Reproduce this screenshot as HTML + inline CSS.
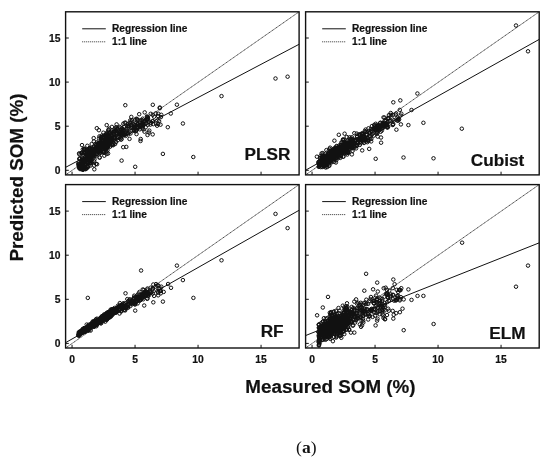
<!DOCTYPE html>
<html><head><meta charset="utf-8"><title>Predicted vs Measured SOM</title>
<style>
html,body{margin:0;padding:0;background:#fff;}
body{width:550px;height:463px;overflow:hidden;}
svg{display:block;}
text{font-family:"Liberation Sans",Arial,sans-serif;font-weight:bold;fill:#111;stroke:#111;stroke-width:0.2px;}
.tk{font-size:10.3px;}
.lg{font-size:10.15px;}
.pn{font-size:17.2px;}
.ax{font-size:18.8px;}
.cap{font-family:"Liberation Serif",serif;font-weight:normal;font-size:17.5px;stroke:none;}
</style></head><body>
<svg width="550" height="463" viewBox="0 0 550 463">
<rect width="550" height="463" fill="#fff"/>

<clipPath id="cPLSR"><rect x="65.6" y="11.8" width="233.5" height="163.1"/></clipPath>
<g clip-path="url(#cPLSR)">
<line x1="65.6" y1="174.9" x2="299.1" y2="11.8" stroke="#333" stroke-width="0.9" stroke-dasharray="1.3 0.4"/>
<line x1="64.49" y1="167.93" x2="301.37" y2="43.08" stroke="#111" stroke-width="1.0"/>
<g fill="none" stroke="#111" stroke-width="1.0">
<circle cx="96.4" cy="147.8" r="1.75"/>
<circle cx="89.5" cy="149.5" r="1.75"/>
<circle cx="86.4" cy="157.7" r="1.75"/>
<circle cx="95.2" cy="144.4" r="1.75"/>
<circle cx="102.0" cy="140.6" r="1.75"/>
<circle cx="82.2" cy="157.7" r="1.75"/>
<circle cx="107.3" cy="138.0" r="1.75"/>
<circle cx="102.4" cy="142.5" r="1.75"/>
<circle cx="82.6" cy="159.8" r="1.75"/>
<circle cx="92.6" cy="151.5" r="1.75"/>
<circle cx="107.8" cy="135.3" r="1.75"/>
<circle cx="84.2" cy="166.7" r="1.75"/>
<circle cx="81.3" cy="153.0" r="1.75"/>
<circle cx="94.3" cy="169.3" r="1.75"/>
<circle cx="91.7" cy="148.4" r="1.75"/>
<circle cx="84.3" cy="160.0" r="1.75"/>
<circle cx="106.6" cy="153.9" r="1.75"/>
<circle cx="79.1" cy="153.4" r="1.75"/>
<circle cx="102.0" cy="146.3" r="1.75"/>
<circle cx="105.1" cy="148.5" r="1.75"/>
<circle cx="103.5" cy="147.1" r="1.75"/>
<circle cx="85.9" cy="159.8" r="1.75"/>
<circle cx="91.7" cy="144.0" r="1.75"/>
<circle cx="95.9" cy="148.8" r="1.75"/>
<circle cx="79.8" cy="158.4" r="1.75"/>
<circle cx="85.4" cy="163.8" r="1.75"/>
<circle cx="88.5" cy="162.1" r="1.75"/>
<circle cx="103.2" cy="140.4" r="1.75"/>
<circle cx="85.1" cy="149.6" r="1.75"/>
<circle cx="108.7" cy="142.8" r="1.75"/>
<circle cx="90.8" cy="151.0" r="1.75"/>
<circle cx="94.0" cy="151.0" r="1.75"/>
<circle cx="79.0" cy="168.0" r="1.75"/>
<circle cx="101.1" cy="145.7" r="1.75"/>
<circle cx="96.6" cy="150.6" r="1.75"/>
<circle cx="83.3" cy="169.0" r="1.75"/>
<circle cx="97.0" cy="145.9" r="1.75"/>
<circle cx="96.7" cy="146.4" r="1.75"/>
<circle cx="92.3" cy="155.1" r="1.75"/>
<circle cx="107.9" cy="146.6" r="1.75"/>
<circle cx="84.2" cy="152.0" r="1.75"/>
<circle cx="91.2" cy="152.5" r="1.75"/>
<circle cx="104.3" cy="142.8" r="1.75"/>
<circle cx="89.7" cy="147.8" r="1.75"/>
<circle cx="91.9" cy="155.8" r="1.75"/>
<circle cx="89.3" cy="157.2" r="1.75"/>
<circle cx="83.9" cy="161.2" r="1.75"/>
<circle cx="87.5" cy="157.2" r="1.75"/>
<circle cx="90.8" cy="162.7" r="1.75"/>
<circle cx="94.1" cy="151.3" r="1.75"/>
<circle cx="110.1" cy="132.9" r="1.75"/>
<circle cx="81.6" cy="161.2" r="1.75"/>
<circle cx="94.1" cy="161.2" r="1.75"/>
<circle cx="86.3" cy="159.3" r="1.75"/>
<circle cx="94.9" cy="149.0" r="1.75"/>
<circle cx="96.4" cy="153.9" r="1.75"/>
<circle cx="84.9" cy="161.8" r="1.75"/>
<circle cx="106.5" cy="141.4" r="1.75"/>
<circle cx="98.9" cy="150.2" r="1.75"/>
<circle cx="110.7" cy="138.5" r="1.75"/>
<circle cx="80.1" cy="166.3" r="1.75"/>
<circle cx="108.6" cy="129.6" r="1.75"/>
<circle cx="101.3" cy="138.7" r="1.75"/>
<circle cx="90.2" cy="153.9" r="1.75"/>
<circle cx="89.6" cy="155.4" r="1.75"/>
<circle cx="82.8" cy="149.5" r="1.75"/>
<circle cx="106.5" cy="139.5" r="1.75"/>
<circle cx="95.1" cy="151.0" r="1.75"/>
<circle cx="97.1" cy="147.3" r="1.75"/>
<circle cx="102.0" cy="143.3" r="1.75"/>
<circle cx="83.9" cy="152.7" r="1.75"/>
<circle cx="97.4" cy="148.7" r="1.75"/>
<circle cx="84.0" cy="149.0" r="1.75"/>
<circle cx="99.3" cy="151.4" r="1.75"/>
<circle cx="100.8" cy="142.3" r="1.75"/>
<circle cx="97.0" cy="154.0" r="1.75"/>
<circle cx="107.1" cy="143.6" r="1.75"/>
<circle cx="92.8" cy="154.1" r="1.75"/>
<circle cx="89.8" cy="155.3" r="1.75"/>
<circle cx="79.8" cy="158.5" r="1.75"/>
<circle cx="89.8" cy="148.5" r="1.75"/>
<circle cx="91.1" cy="159.5" r="1.75"/>
<circle cx="100.0" cy="148.1" r="1.75"/>
<circle cx="105.2" cy="149.0" r="1.75"/>
<circle cx="108.0" cy="139.3" r="1.75"/>
<circle cx="91.1" cy="154.4" r="1.75"/>
<circle cx="96.8" cy="150.9" r="1.75"/>
<circle cx="83.5" cy="163.8" r="1.75"/>
<circle cx="91.5" cy="163.3" r="1.75"/>
<circle cx="104.3" cy="155.7" r="1.75"/>
<circle cx="108.6" cy="136.9" r="1.75"/>
<circle cx="104.2" cy="135.4" r="1.75"/>
<circle cx="80.6" cy="166.4" r="1.75"/>
<circle cx="90.8" cy="154.7" r="1.75"/>
<circle cx="92.6" cy="154.7" r="1.75"/>
<circle cx="106.1" cy="139.0" r="1.75"/>
<circle cx="90.0" cy="159.7" r="1.75"/>
<circle cx="80.8" cy="163.3" r="1.75"/>
<circle cx="78.8" cy="166.0" r="1.75"/>
<circle cx="101.8" cy="143.9" r="1.75"/>
<circle cx="98.5" cy="147.2" r="1.75"/>
<circle cx="79.0" cy="164.8" r="1.75"/>
<circle cx="107.6" cy="138.4" r="1.75"/>
<circle cx="94.7" cy="152.1" r="1.75"/>
<circle cx="104.0" cy="150.8" r="1.75"/>
<circle cx="100.3" cy="143.2" r="1.75"/>
<circle cx="88.8" cy="154.3" r="1.75"/>
<circle cx="88.5" cy="156.8" r="1.75"/>
<circle cx="94.0" cy="150.7" r="1.75"/>
<circle cx="83.9" cy="168.4" r="1.75"/>
<circle cx="104.6" cy="148.1" r="1.75"/>
<circle cx="84.5" cy="163.4" r="1.75"/>
<circle cx="84.3" cy="151.6" r="1.75"/>
<circle cx="103.0" cy="136.9" r="1.75"/>
<circle cx="96.4" cy="154.1" r="1.75"/>
<circle cx="80.0" cy="167.9" r="1.75"/>
<circle cx="93.4" cy="155.2" r="1.75"/>
<circle cx="93.3" cy="154.5" r="1.75"/>
<circle cx="106.3" cy="149.1" r="1.75"/>
<circle cx="101.5" cy="145.1" r="1.75"/>
<circle cx="99.8" cy="153.0" r="1.75"/>
<circle cx="105.2" cy="148.1" r="1.75"/>
<circle cx="79.3" cy="159.0" r="1.75"/>
<circle cx="93.8" cy="155.1" r="1.75"/>
<circle cx="103.3" cy="144.1" r="1.75"/>
<circle cx="100.3" cy="150.1" r="1.75"/>
<circle cx="85.1" cy="160.2" r="1.75"/>
<circle cx="101.5" cy="146.9" r="1.75"/>
<circle cx="89.1" cy="159.6" r="1.75"/>
<circle cx="100.1" cy="151.2" r="1.75"/>
<circle cx="99.0" cy="138.5" r="1.75"/>
<circle cx="89.1" cy="152.2" r="1.75"/>
<circle cx="82.6" cy="166.0" r="1.75"/>
<circle cx="106.7" cy="140.9" r="1.75"/>
<circle cx="93.0" cy="148.6" r="1.75"/>
<circle cx="88.6" cy="153.5" r="1.75"/>
<circle cx="79.3" cy="154.3" r="1.75"/>
<circle cx="89.3" cy="148.3" r="1.75"/>
<circle cx="84.0" cy="167.1" r="1.75"/>
<circle cx="82.5" cy="161.5" r="1.75"/>
<circle cx="104.9" cy="148.7" r="1.75"/>
<circle cx="96.5" cy="148.1" r="1.75"/>
<circle cx="83.3" cy="159.6" r="1.75"/>
<circle cx="103.4" cy="132.7" r="1.75"/>
<circle cx="82.4" cy="166.3" r="1.75"/>
<circle cx="99.6" cy="157.2" r="1.75"/>
<circle cx="88.5" cy="165.7" r="1.75"/>
<circle cx="97.2" cy="148.2" r="1.75"/>
<circle cx="87.6" cy="163.3" r="1.75"/>
<circle cx="90.8" cy="158.5" r="1.75"/>
<circle cx="83.5" cy="162.1" r="1.75"/>
<circle cx="85.5" cy="169.2" r="1.75"/>
<circle cx="104.3" cy="143.7" r="1.75"/>
<circle cx="109.0" cy="143.5" r="1.75"/>
<circle cx="108.3" cy="135.9" r="1.75"/>
<circle cx="101.7" cy="147.7" r="1.75"/>
<circle cx="100.7" cy="148.4" r="1.75"/>
<circle cx="90.7" cy="165.5" r="1.75"/>
<circle cx="88.0" cy="160.5" r="1.75"/>
<circle cx="101.3" cy="142.1" r="1.75"/>
<circle cx="90.1" cy="163.0" r="1.75"/>
<circle cx="96.9" cy="149.4" r="1.75"/>
<circle cx="102.4" cy="140.9" r="1.75"/>
<circle cx="85.4" cy="160.6" r="1.75"/>
<circle cx="98.7" cy="146.3" r="1.75"/>
<circle cx="95.4" cy="155.9" r="1.75"/>
<circle cx="96.9" cy="142.4" r="1.75"/>
<circle cx="106.6" cy="135.6" r="1.75"/>
<circle cx="82.9" cy="159.5" r="1.75"/>
<circle cx="87.4" cy="166.0" r="1.75"/>
<circle cx="82.0" cy="166.2" r="1.75"/>
<circle cx="104.5" cy="137.9" r="1.75"/>
<circle cx="87.7" cy="149.7" r="1.75"/>
<circle cx="92.4" cy="151.3" r="1.75"/>
<circle cx="84.9" cy="152.6" r="1.75"/>
<circle cx="82.9" cy="163.9" r="1.75"/>
<circle cx="94.5" cy="152.0" r="1.75"/>
<circle cx="96.2" cy="149.6" r="1.75"/>
<circle cx="78.6" cy="162.6" r="1.75"/>
<circle cx="106.5" cy="151.8" r="1.75"/>
<circle cx="96.1" cy="152.4" r="1.75"/>
<circle cx="100.9" cy="139.1" r="1.75"/>
<circle cx="106.8" cy="146.6" r="1.75"/>
<circle cx="100.9" cy="152.5" r="1.75"/>
<circle cx="86.6" cy="155.9" r="1.75"/>
<circle cx="85.7" cy="161.8" r="1.75"/>
<circle cx="84.3" cy="166.9" r="1.75"/>
<circle cx="98.1" cy="143.9" r="1.75"/>
<circle cx="90.9" cy="153.2" r="1.75"/>
<circle cx="86.1" cy="168.8" r="1.75"/>
<circle cx="99.4" cy="136.4" r="1.75"/>
<circle cx="87.1" cy="156.5" r="1.75"/>
<circle cx="88.7" cy="159.8" r="1.75"/>
<circle cx="92.2" cy="152.5" r="1.75"/>
<circle cx="99.6" cy="157.7" r="1.75"/>
<circle cx="82.4" cy="168.4" r="1.75"/>
<circle cx="81.7" cy="159.7" r="1.75"/>
<circle cx="80.2" cy="165.9" r="1.75"/>
<circle cx="90.7" cy="156.5" r="1.75"/>
<circle cx="82.1" cy="152.8" r="1.75"/>
<circle cx="85.2" cy="161.2" r="1.75"/>
<circle cx="93.8" cy="147.5" r="1.75"/>
<circle cx="109.1" cy="136.5" r="1.75"/>
<circle cx="100.4" cy="143.6" r="1.75"/>
<circle cx="107.1" cy="133.4" r="1.75"/>
<circle cx="95.9" cy="149.9" r="1.75"/>
<circle cx="101.8" cy="135.7" r="1.75"/>
<circle cx="100.3" cy="150.9" r="1.75"/>
<circle cx="110.1" cy="146.7" r="1.75"/>
<circle cx="86.0" cy="168.4" r="1.75"/>
<circle cx="93.8" cy="156.8" r="1.75"/>
<circle cx="98.6" cy="145.0" r="1.75"/>
<circle cx="83.3" cy="152.9" r="1.75"/>
<circle cx="92.4" cy="156.1" r="1.75"/>
<circle cx="93.1" cy="152.2" r="1.75"/>
<circle cx="82.4" cy="163.0" r="1.75"/>
<circle cx="87.9" cy="167.0" r="1.75"/>
<circle cx="101.2" cy="151.4" r="1.75"/>
<circle cx="106.3" cy="141.0" r="1.75"/>
<circle cx="92.1" cy="161.8" r="1.75"/>
<circle cx="96.0" cy="149.2" r="1.75"/>
<circle cx="84.3" cy="159.5" r="1.75"/>
<circle cx="88.2" cy="159.7" r="1.75"/>
<circle cx="85.7" cy="164.3" r="1.75"/>
<circle cx="94.2" cy="165.5" r="1.75"/>
<circle cx="84.6" cy="149.7" r="1.75"/>
<circle cx="84.2" cy="166.6" r="1.75"/>
<circle cx="102.6" cy="136.6" r="1.75"/>
<circle cx="98.2" cy="144.9" r="1.75"/>
<circle cx="98.1" cy="149.9" r="1.75"/>
<circle cx="87.8" cy="162.7" r="1.75"/>
<circle cx="101.8" cy="139.7" r="1.75"/>
<circle cx="100.9" cy="137.0" r="1.75"/>
<circle cx="96.1" cy="163.9" r="1.75"/>
<circle cx="103.0" cy="145.4" r="1.75"/>
<circle cx="89.3" cy="150.0" r="1.75"/>
<circle cx="85.8" cy="156.5" r="1.75"/>
<circle cx="93.9" cy="141.4" r="1.75"/>
<circle cx="90.0" cy="157.7" r="1.75"/>
<circle cx="92.3" cy="150.1" r="1.75"/>
<circle cx="88.7" cy="162.3" r="1.75"/>
<circle cx="84.4" cy="148.7" r="1.75"/>
<circle cx="107.5" cy="145.6" r="1.75"/>
<circle cx="97.1" cy="164.2" r="1.75"/>
<circle cx="103.0" cy="144.6" r="1.75"/>
<circle cx="89.0" cy="156.3" r="1.75"/>
<circle cx="88.4" cy="151.4" r="1.75"/>
<circle cx="94.9" cy="152.4" r="1.75"/>
<circle cx="83.3" cy="160.4" r="1.75"/>
<circle cx="96.9" cy="146.0" r="1.75"/>
<circle cx="86.7" cy="151.6" r="1.75"/>
<circle cx="109.6" cy="139.0" r="1.75"/>
<circle cx="105.7" cy="136.6" r="1.75"/>
<circle cx="78.8" cy="164.1" r="1.75"/>
<circle cx="86.4" cy="159.3" r="1.75"/>
<circle cx="82.5" cy="160.6" r="1.75"/>
<circle cx="106.1" cy="142.3" r="1.75"/>
<circle cx="78.8" cy="165.8" r="1.75"/>
<circle cx="109.2" cy="133.1" r="1.75"/>
<circle cx="107.4" cy="147.2" r="1.75"/>
<circle cx="90.4" cy="148.5" r="1.75"/>
<circle cx="98.9" cy="143.3" r="1.75"/>
<circle cx="101.4" cy="145.7" r="1.75"/>
<circle cx="108.0" cy="143.7" r="1.75"/>
<circle cx="84.4" cy="160.6" r="1.75"/>
<circle cx="87.2" cy="154.7" r="1.75"/>
<circle cx="90.4" cy="150.6" r="1.75"/>
<circle cx="89.7" cy="153.6" r="1.75"/>
<circle cx="97.9" cy="143.2" r="1.75"/>
<circle cx="90.7" cy="161.0" r="1.75"/>
<circle cx="93.0" cy="151.1" r="1.75"/>
<circle cx="94.5" cy="159.3" r="1.75"/>
<circle cx="87.6" cy="156.0" r="1.75"/>
<circle cx="104.7" cy="144.1" r="1.75"/>
<circle cx="100.9" cy="147.7" r="1.75"/>
<circle cx="105.6" cy="136.1" r="1.75"/>
<circle cx="106.5" cy="137.7" r="1.75"/>
<circle cx="84.8" cy="168.0" r="1.75"/>
<circle cx="87.3" cy="167.8" r="1.75"/>
<circle cx="106.4" cy="148.3" r="1.75"/>
<circle cx="85.3" cy="153.2" r="1.75"/>
<circle cx="87.3" cy="145.8" r="1.75"/>
<circle cx="103.0" cy="146.5" r="1.75"/>
<circle cx="78.4" cy="164.1" r="1.75"/>
<circle cx="86.7" cy="158.9" r="1.75"/>
<circle cx="84.9" cy="157.2" r="1.75"/>
<circle cx="94.0" cy="155.1" r="1.75"/>
<circle cx="102.7" cy="141.2" r="1.75"/>
<circle cx="98.5" cy="152.6" r="1.75"/>
<circle cx="96.0" cy="145.2" r="1.75"/>
<circle cx="82.2" cy="166.2" r="1.75"/>
<circle cx="101.1" cy="144.2" r="1.75"/>
<circle cx="83.1" cy="154.6" r="1.75"/>
<circle cx="92.7" cy="148.9" r="1.75"/>
<circle cx="109.6" cy="143.3" r="1.75"/>
<circle cx="106.3" cy="144.8" r="1.75"/>
<circle cx="114.6" cy="137.4" r="1.75"/>
<circle cx="119.1" cy="132.7" r="1.75"/>
<circle cx="146.9" cy="116.5" r="1.75"/>
<circle cx="130.5" cy="133.5" r="1.75"/>
<circle cx="131.2" cy="125.0" r="1.75"/>
<circle cx="132.6" cy="123.8" r="1.75"/>
<circle cx="127.3" cy="126.1" r="1.75"/>
<circle cx="128.2" cy="126.1" r="1.75"/>
<circle cx="106.1" cy="134.0" r="1.75"/>
<circle cx="113.3" cy="133.6" r="1.75"/>
<circle cx="116.1" cy="130.0" r="1.75"/>
<circle cx="122.2" cy="128.2" r="1.75"/>
<circle cx="128.8" cy="125.6" r="1.75"/>
<circle cx="136.5" cy="134.1" r="1.75"/>
<circle cx="137.1" cy="119.2" r="1.75"/>
<circle cx="128.2" cy="134.2" r="1.75"/>
<circle cx="111.8" cy="138.4" r="1.75"/>
<circle cx="128.2" cy="132.9" r="1.75"/>
<circle cx="113.2" cy="145.2" r="1.75"/>
<circle cx="119.8" cy="133.9" r="1.75"/>
<circle cx="126.2" cy="132.4" r="1.75"/>
<circle cx="136.5" cy="123.0" r="1.75"/>
<circle cx="117.8" cy="140.2" r="1.75"/>
<circle cx="136.5" cy="118.7" r="1.75"/>
<circle cx="121.0" cy="130.2" r="1.75"/>
<circle cx="137.5" cy="126.1" r="1.75"/>
<circle cx="137.2" cy="128.3" r="1.75"/>
<circle cx="123.2" cy="147.2" r="1.75"/>
<circle cx="139.8" cy="129.3" r="1.75"/>
<circle cx="103.8" cy="152.3" r="1.75"/>
<circle cx="120.1" cy="131.9" r="1.75"/>
<circle cx="107.1" cy="141.6" r="1.75"/>
<circle cx="144.5" cy="131.7" r="1.75"/>
<circle cx="109.7" cy="143.3" r="1.75"/>
<circle cx="129.5" cy="132.2" r="1.75"/>
<circle cx="134.2" cy="125.4" r="1.75"/>
<circle cx="117.8" cy="128.5" r="1.75"/>
<circle cx="147.0" cy="118.8" r="1.75"/>
<circle cx="137.5" cy="126.4" r="1.75"/>
<circle cx="147.5" cy="135.0" r="1.75"/>
<circle cx="107.0" cy="147.7" r="1.75"/>
<circle cx="121.6" cy="139.2" r="1.75"/>
<circle cx="104.0" cy="152.0" r="1.75"/>
<circle cx="147.9" cy="124.7" r="1.75"/>
<circle cx="122.3" cy="130.5" r="1.75"/>
<circle cx="114.5" cy="138.2" r="1.75"/>
<circle cx="106.0" cy="143.5" r="1.75"/>
<circle cx="123.3" cy="123.7" r="1.75"/>
<circle cx="134.2" cy="129.3" r="1.75"/>
<circle cx="145.9" cy="123.5" r="1.75"/>
<circle cx="118.3" cy="136.8" r="1.75"/>
<circle cx="114.2" cy="131.2" r="1.75"/>
<circle cx="108.1" cy="144.9" r="1.75"/>
<circle cx="142.3" cy="128.4" r="1.75"/>
<circle cx="125.6" cy="135.9" r="1.75"/>
<circle cx="110.5" cy="144.9" r="1.75"/>
<circle cx="111.8" cy="134.8" r="1.75"/>
<circle cx="139.2" cy="114.2" r="1.75"/>
<circle cx="123.1" cy="135.2" r="1.75"/>
<circle cx="128.1" cy="123.9" r="1.75"/>
<circle cx="123.2" cy="129.2" r="1.75"/>
<circle cx="108.1" cy="153.5" r="1.75"/>
<circle cx="139.7" cy="125.4" r="1.75"/>
<circle cx="109.4" cy="140.0" r="1.75"/>
<circle cx="138.6" cy="127.7" r="1.75"/>
<circle cx="108.4" cy="130.2" r="1.75"/>
<circle cx="103.7" cy="152.8" r="1.75"/>
<circle cx="143.2" cy="121.2" r="1.75"/>
<circle cx="137.9" cy="124.0" r="1.75"/>
<circle cx="107.1" cy="143.5" r="1.75"/>
<circle cx="138.0" cy="124.0" r="1.75"/>
<circle cx="120.2" cy="127.6" r="1.75"/>
<circle cx="144.6" cy="121.7" r="1.75"/>
<circle cx="105.3" cy="140.0" r="1.75"/>
<circle cx="125.2" cy="130.7" r="1.75"/>
<circle cx="126.3" cy="146.9" r="1.75"/>
<circle cx="124.7" cy="122.8" r="1.75"/>
<circle cx="131.3" cy="116.9" r="1.75"/>
<circle cx="147.3" cy="117.1" r="1.75"/>
<circle cx="114.4" cy="132.6" r="1.75"/>
<circle cx="140.5" cy="141.0" r="1.75"/>
<circle cx="130.9" cy="127.9" r="1.75"/>
<circle cx="111.0" cy="141.6" r="1.75"/>
<circle cx="105.0" cy="145.2" r="1.75"/>
<circle cx="104.3" cy="138.1" r="1.75"/>
<circle cx="114.1" cy="139.3" r="1.75"/>
<circle cx="117.0" cy="134.2" r="1.75"/>
<circle cx="115.1" cy="144.0" r="1.75"/>
<circle cx="118.7" cy="133.8" r="1.75"/>
<circle cx="126.6" cy="129.1" r="1.75"/>
<circle cx="110.9" cy="141.2" r="1.75"/>
<circle cx="104.5" cy="146.3" r="1.75"/>
<circle cx="116.7" cy="127.7" r="1.75"/>
<circle cx="135.7" cy="131.2" r="1.75"/>
<circle cx="136.7" cy="130.0" r="1.75"/>
<circle cx="119.3" cy="136.2" r="1.75"/>
<circle cx="110.4" cy="132.2" r="1.75"/>
<circle cx="109.3" cy="128.6" r="1.75"/>
<circle cx="146.9" cy="120.1" r="1.75"/>
<circle cx="116.0" cy="142.0" r="1.75"/>
<circle cx="141.6" cy="125.4" r="1.75"/>
<circle cx="130.0" cy="122.7" r="1.75"/>
<circle cx="123.9" cy="134.4" r="1.75"/>
<circle cx="115.8" cy="127.4" r="1.75"/>
<circle cx="125.6" cy="122.7" r="1.75"/>
<circle cx="103.9" cy="142.9" r="1.75"/>
<circle cx="124.0" cy="127.0" r="1.75"/>
<circle cx="114.5" cy="131.5" r="1.75"/>
<circle cx="130.3" cy="120.3" r="1.75"/>
<circle cx="124.9" cy="134.6" r="1.75"/>
<circle cx="107.4" cy="134.6" r="1.75"/>
<circle cx="142.5" cy="124.9" r="1.75"/>
<circle cx="123.4" cy="134.0" r="1.75"/>
<circle cx="112.3" cy="144.7" r="1.75"/>
<circle cx="110.7" cy="138.9" r="1.75"/>
<circle cx="108.1" cy="146.7" r="1.75"/>
<circle cx="113.2" cy="143.8" r="1.75"/>
<circle cx="123.8" cy="134.6" r="1.75"/>
<circle cx="131.9" cy="120.2" r="1.75"/>
<circle cx="116.6" cy="124.4" r="1.75"/>
<circle cx="148.0" cy="118.3" r="1.75"/>
<circle cx="110.5" cy="135.7" r="1.75"/>
<circle cx="122.8" cy="133.1" r="1.75"/>
<circle cx="119.8" cy="132.4" r="1.75"/>
<circle cx="121.3" cy="129.9" r="1.75"/>
<circle cx="136.0" cy="130.5" r="1.75"/>
<circle cx="134.0" cy="130.8" r="1.75"/>
<circle cx="135.3" cy="125.3" r="1.75"/>
<circle cx="121.3" cy="132.8" r="1.75"/>
<circle cx="124.8" cy="134.7" r="1.75"/>
<circle cx="133.7" cy="124.5" r="1.75"/>
<circle cx="139.5" cy="125.4" r="1.75"/>
<circle cx="137.8" cy="120.1" r="1.75"/>
<circle cx="123.0" cy="130.5" r="1.75"/>
<circle cx="140.7" cy="125.2" r="1.75"/>
<circle cx="115.0" cy="137.3" r="1.75"/>
<circle cx="142.2" cy="124.0" r="1.75"/>
<circle cx="103.6" cy="146.8" r="1.75"/>
<circle cx="114.3" cy="137.3" r="1.75"/>
<circle cx="141.9" cy="120.0" r="1.75"/>
<circle cx="147.3" cy="118.9" r="1.75"/>
<circle cx="114.7" cy="129.4" r="1.75"/>
<circle cx="112.6" cy="144.8" r="1.75"/>
<circle cx="117.3" cy="137.7" r="1.75"/>
<circle cx="119.8" cy="134.0" r="1.75"/>
<circle cx="106.7" cy="140.1" r="1.75"/>
<circle cx="113.5" cy="138.0" r="1.75"/>
<circle cx="143.7" cy="125.1" r="1.75"/>
<circle cx="140.2" cy="120.4" r="1.75"/>
<circle cx="117.0" cy="132.8" r="1.75"/>
<circle cx="145.7" cy="127.3" r="1.75"/>
<circle cx="135.2" cy="119.6" r="1.75"/>
<circle cx="113.3" cy="132.4" r="1.75"/>
<circle cx="135.1" cy="128.4" r="1.75"/>
<circle cx="112.0" cy="140.0" r="1.75"/>
<circle cx="121.5" cy="134.7" r="1.75"/>
<circle cx="111.8" cy="131.6" r="1.75"/>
<circle cx="122.0" cy="132.0" r="1.75"/>
<circle cx="105.3" cy="146.0" r="1.75"/>
<circle cx="142.9" cy="124.7" r="1.75"/>
<circle cx="111.2" cy="141.3" r="1.75"/>
<circle cx="104.5" cy="145.5" r="1.75"/>
<circle cx="137.3" cy="124.2" r="1.75"/>
<circle cx="116.9" cy="133.5" r="1.75"/>
<circle cx="111.9" cy="139.7" r="1.75"/>
<circle cx="129.5" cy="138.9" r="1.75"/>
<circle cx="128.5" cy="127.8" r="1.75"/>
<circle cx="107.5" cy="150.1" r="1.75"/>
<circle cx="148.2" cy="120.1" r="1.75"/>
<circle cx="119.5" cy="126.8" r="1.75"/>
<circle cx="120.7" cy="137.9" r="1.75"/>
<circle cx="126.9" cy="130.7" r="1.75"/>
<circle cx="134.0" cy="127.0" r="1.75"/>
<circle cx="121.0" cy="139.6" r="1.75"/>
<circle cx="137.7" cy="127.4" r="1.75"/>
<circle cx="142.6" cy="125.8" r="1.75"/>
<circle cx="142.3" cy="127.4" r="1.75"/>
<circle cx="108.4" cy="140.1" r="1.75"/>
<circle cx="111.6" cy="137.3" r="1.75"/>
<circle cx="117.1" cy="129.0" r="1.75"/>
<circle cx="134.3" cy="127.2" r="1.75"/>
<circle cx="131.7" cy="126.7" r="1.75"/>
<circle cx="142.0" cy="124.1" r="1.75"/>
<circle cx="139.6" cy="122.8" r="1.75"/>
<circle cx="110.9" cy="133.7" r="1.75"/>
<circle cx="114.3" cy="134.2" r="1.75"/>
<circle cx="120.8" cy="134.8" r="1.75"/>
<circle cx="133.8" cy="129.9" r="1.75"/>
<circle cx="107.3" cy="132.3" r="1.75"/>
<circle cx="132.6" cy="128.0" r="1.75"/>
<circle cx="111.4" cy="138.8" r="1.75"/>
<circle cx="131.4" cy="121.8" r="1.75"/>
<circle cx="152.7" cy="114.8" r="1.75"/>
<circle cx="154.1" cy="116.7" r="1.75"/>
<circle cx="152.8" cy="121.3" r="1.75"/>
<circle cx="144.7" cy="112.4" r="1.75"/>
<circle cx="161.3" cy="114.8" r="1.75"/>
<circle cx="160.9" cy="117.1" r="1.75"/>
<circle cx="143.3" cy="123.6" r="1.75"/>
<circle cx="160.5" cy="124.7" r="1.75"/>
<circle cx="152.7" cy="134.4" r="1.75"/>
<circle cx="145.0" cy="120.4" r="1.75"/>
<circle cx="158.1" cy="116.0" r="1.75"/>
<circle cx="150.8" cy="122.9" r="1.75"/>
<circle cx="156.1" cy="123.6" r="1.75"/>
<circle cx="158.2" cy="124.0" r="1.75"/>
<circle cx="152.8" cy="121.0" r="1.75"/>
<circle cx="143.5" cy="129.4" r="1.75"/>
<circle cx="158.2" cy="113.7" r="1.75"/>
<circle cx="155.7" cy="113.4" r="1.75"/>
<circle cx="159.8" cy="107.5" r="1.75"/>
<circle cx="147.7" cy="117.4" r="1.75"/>
<circle cx="157.4" cy="120.5" r="1.75"/>
<circle cx="159.1" cy="121.2" r="1.75"/>
<circle cx="149.3" cy="130.6" r="1.75"/>
<circle cx="150.4" cy="124.6" r="1.75"/>
<circle cx="148.9" cy="121.7" r="1.75"/>
<circle cx="142.7" cy="118.7" r="1.75"/>
<circle cx="147.0" cy="118.8" r="1.75"/>
<circle cx="148.9" cy="132.5" r="1.75"/>
<circle cx="144.7" cy="121.4" r="1.75"/>
<circle cx="157.1" cy="125.7" r="1.75"/>
<circle cx="150.7" cy="113.8" r="1.75"/>
<circle cx="153.3" cy="124.1" r="1.75"/>
<circle cx="125.3" cy="105.2" r="1.75"/>
<circle cx="152.8" cy="104.8" r="1.75"/>
<circle cx="159.8" cy="108.2" r="1.75"/>
<circle cx="176.9" cy="104.7" r="1.75"/>
<circle cx="170.8" cy="113.5" r="1.75"/>
<circle cx="182.9" cy="123.5" r="1.75"/>
<circle cx="167.8" cy="127.2" r="1.75"/>
<circle cx="162.9" cy="153.9" r="1.75"/>
<circle cx="193.3" cy="157.0" r="1.75"/>
<circle cx="135.2" cy="166.8" r="1.75"/>
<circle cx="121.6" cy="160.6" r="1.75"/>
<circle cx="140.7" cy="139.0" r="1.75"/>
<circle cx="82.0" cy="145.1" r="1.75"/>
<circle cx="93.7" cy="138.1" r="1.75"/>
<circle cx="96.8" cy="128.2" r="1.75"/>
<circle cx="98.9" cy="130.2" r="1.75"/>
<circle cx="106.7" cy="125.1" r="1.75"/>
<circle cx="111.9" cy="126.9" r="1.75"/>
<circle cx="221.5" cy="96.1" r="1.75"/>
<circle cx="275.5" cy="78.5" r="1.75"/>
<circle cx="287.6" cy="76.7" r="1.75"/>
<circle cx="79.6" cy="166.9" r="1.75"/>
<circle cx="82.8" cy="169.7" r="1.75"/>
<circle cx="81.9" cy="169.3" r="1.75"/>
<circle cx="80.9" cy="168.5" r="1.75"/>
<circle cx="83.7" cy="169.1" r="1.75"/>
<circle cx="82.0" cy="166.8" r="1.75"/>
<circle cx="80.7" cy="164.5" r="1.75"/>
<circle cx="80.7" cy="168.5" r="1.75"/>
<circle cx="82.9" cy="167.4" r="1.75"/>
<circle cx="83.1" cy="169.7" r="1.75"/>
<circle cx="79.5" cy="165.8" r="1.75"/>
<circle cx="81.0" cy="165.0" r="1.75"/>
<circle cx="80.1" cy="169.1" r="1.75"/>
<circle cx="84.0" cy="168.3" r="1.75"/>
</g></g>
<path d="M72.05 174.9 v-3.2 M65.6 170.30 h3.2 M135.05 174.9 v-3.2 M65.6 126.20 h3.2 M198.05 174.9 v-3.2 M65.6 82.10 h3.2 M261.05 174.9 v-3.2 M65.6 38.00 h3.2" stroke="#111" stroke-width="1" fill="none"/>
<rect x="65.6" y="11.8" width="233.5" height="163.1" fill="none" stroke="#111" stroke-width="1.4"/>
<line x1="82.2" y1="28.8" x2="105.8" y2="28.8" stroke="#111" stroke-width="1"/>
<line x1="82.2" y1="41.8" x2="105.8" y2="41.8" stroke="#333" stroke-width="1" stroke-dasharray="1 1"/>
<text class="lg" x="112.0" y="32.0">Regression line</text>
<text class="lg" x="112.0" y="45.2">1:1 line</text>
<text class="pn" x="290.4" y="160.3" text-anchor="end">PLSR</text>
<text class="tk" x="60.4" y="174.1" text-anchor="end">0</text>
<text class="tk" x="60.4" y="130.0" text-anchor="end">5</text>
<text class="tk" x="60.4" y="85.9" text-anchor="end">10</text>
<text class="tk" x="60.4" y="41.8" text-anchor="end">15</text>
<clipPath id="cCubist"><rect x="305.6" y="11.8" width="233.6" height="163.1"/></clipPath>
<g clip-path="url(#cCubist)">
<line x1="305.6" y1="174.9" x2="539.2" y2="11.8" stroke="#333" stroke-width="0.9" stroke-dasharray="1.3 0.4"/>
<line x1="304.49" y1="170.83" x2="541.37" y2="38.18" stroke="#111" stroke-width="1.0"/>
<g fill="none" stroke="#111" stroke-width="1.0">
<circle cx="336.4" cy="160.1" r="1.75"/>
<circle cx="329.5" cy="148.9" r="1.75"/>
<circle cx="326.4" cy="159.2" r="1.75"/>
<circle cx="335.2" cy="152.7" r="1.75"/>
<circle cx="342.0" cy="152.0" r="1.75"/>
<circle cx="322.2" cy="158.0" r="1.75"/>
<circle cx="347.3" cy="154.5" r="1.75"/>
<circle cx="342.4" cy="148.9" r="1.75"/>
<circle cx="322.6" cy="153.1" r="1.75"/>
<circle cx="332.6" cy="156.9" r="1.75"/>
<circle cx="347.8" cy="145.6" r="1.75"/>
<circle cx="324.2" cy="158.3" r="1.75"/>
<circle cx="321.3" cy="165.1" r="1.75"/>
<circle cx="334.3" cy="154.1" r="1.75"/>
<circle cx="331.7" cy="152.0" r="1.75"/>
<circle cx="324.3" cy="160.1" r="1.75"/>
<circle cx="346.6" cy="144.9" r="1.75"/>
<circle cx="319.1" cy="164.8" r="1.75"/>
<circle cx="342.0" cy="148.0" r="1.75"/>
<circle cx="345.1" cy="147.1" r="1.75"/>
<circle cx="343.5" cy="142.4" r="1.75"/>
<circle cx="325.9" cy="156.8" r="1.75"/>
<circle cx="331.7" cy="156.9" r="1.75"/>
<circle cx="335.9" cy="162.5" r="1.75"/>
<circle cx="319.8" cy="161.0" r="1.75"/>
<circle cx="325.4" cy="157.1" r="1.75"/>
<circle cx="328.5" cy="161.8" r="1.75"/>
<circle cx="343.2" cy="156.6" r="1.75"/>
<circle cx="325.1" cy="165.0" r="1.75"/>
<circle cx="348.7" cy="141.4" r="1.75"/>
<circle cx="330.8" cy="160.8" r="1.75"/>
<circle cx="334.0" cy="156.3" r="1.75"/>
<circle cx="319.0" cy="163.6" r="1.75"/>
<circle cx="341.1" cy="144.9" r="1.75"/>
<circle cx="336.6" cy="152.8" r="1.75"/>
<circle cx="323.3" cy="161.9" r="1.75"/>
<circle cx="337.0" cy="154.7" r="1.75"/>
<circle cx="336.7" cy="146.0" r="1.75"/>
<circle cx="332.3" cy="151.2" r="1.75"/>
<circle cx="347.9" cy="146.0" r="1.75"/>
<circle cx="324.2" cy="165.1" r="1.75"/>
<circle cx="331.2" cy="159.5" r="1.75"/>
<circle cx="344.3" cy="145.5" r="1.75"/>
<circle cx="329.7" cy="160.2" r="1.75"/>
<circle cx="331.9" cy="152.1" r="1.75"/>
<circle cx="329.3" cy="156.0" r="1.75"/>
<circle cx="323.9" cy="160.0" r="1.75"/>
<circle cx="327.5" cy="156.1" r="1.75"/>
<circle cx="330.8" cy="154.5" r="1.75"/>
<circle cx="334.1" cy="157.8" r="1.75"/>
<circle cx="350.1" cy="145.6" r="1.75"/>
<circle cx="321.6" cy="153.4" r="1.75"/>
<circle cx="334.1" cy="159.2" r="1.75"/>
<circle cx="326.3" cy="161.5" r="1.75"/>
<circle cx="334.9" cy="149.5" r="1.75"/>
<circle cx="336.4" cy="153.5" r="1.75"/>
<circle cx="324.9" cy="163.8" r="1.75"/>
<circle cx="346.5" cy="151.8" r="1.75"/>
<circle cx="338.9" cy="149.1" r="1.75"/>
<circle cx="350.7" cy="139.8" r="1.75"/>
<circle cx="320.1" cy="158.1" r="1.75"/>
<circle cx="348.6" cy="144.9" r="1.75"/>
<circle cx="341.3" cy="145.5" r="1.75"/>
<circle cx="330.2" cy="161.1" r="1.75"/>
<circle cx="329.6" cy="156.6" r="1.75"/>
<circle cx="322.8" cy="164.7" r="1.75"/>
<circle cx="346.5" cy="145.8" r="1.75"/>
<circle cx="335.1" cy="150.7" r="1.75"/>
<circle cx="337.1" cy="148.1" r="1.75"/>
<circle cx="342.0" cy="153.3" r="1.75"/>
<circle cx="323.9" cy="156.0" r="1.75"/>
<circle cx="337.4" cy="154.1" r="1.75"/>
<circle cx="324.0" cy="165.2" r="1.75"/>
<circle cx="339.3" cy="151.7" r="1.75"/>
<circle cx="340.8" cy="156.0" r="1.75"/>
<circle cx="337.0" cy="152.5" r="1.75"/>
<circle cx="347.1" cy="144.9" r="1.75"/>
<circle cx="332.8" cy="156.0" r="1.75"/>
<circle cx="329.8" cy="155.0" r="1.75"/>
<circle cx="319.8" cy="165.2" r="1.75"/>
<circle cx="329.8" cy="157.1" r="1.75"/>
<circle cx="331.1" cy="162.1" r="1.75"/>
<circle cx="340.0" cy="150.3" r="1.75"/>
<circle cx="345.2" cy="150.7" r="1.75"/>
<circle cx="348.0" cy="147.4" r="1.75"/>
<circle cx="331.1" cy="156.7" r="1.75"/>
<circle cx="336.8" cy="151.8" r="1.75"/>
<circle cx="323.5" cy="165.7" r="1.75"/>
<circle cx="331.5" cy="162.4" r="1.75"/>
<circle cx="344.3" cy="149.0" r="1.75"/>
<circle cx="348.6" cy="143.2" r="1.75"/>
<circle cx="344.2" cy="146.4" r="1.75"/>
<circle cx="320.6" cy="159.8" r="1.75"/>
<circle cx="330.8" cy="151.2" r="1.75"/>
<circle cx="332.6" cy="153.3" r="1.75"/>
<circle cx="346.1" cy="146.8" r="1.75"/>
<circle cx="330.0" cy="161.3" r="1.75"/>
<circle cx="320.8" cy="167.1" r="1.75"/>
<circle cx="318.8" cy="166.6" r="1.75"/>
<circle cx="341.8" cy="148.3" r="1.75"/>
<circle cx="338.5" cy="150.6" r="1.75"/>
<circle cx="319.0" cy="164.5" r="1.75"/>
<circle cx="347.6" cy="146.4" r="1.75"/>
<circle cx="334.7" cy="151.4" r="1.75"/>
<circle cx="344.0" cy="147.2" r="1.75"/>
<circle cx="340.3" cy="149.1" r="1.75"/>
<circle cx="328.8" cy="156.6" r="1.75"/>
<circle cx="328.5" cy="160.3" r="1.75"/>
<circle cx="334.0" cy="158.6" r="1.75"/>
<circle cx="323.9" cy="159.1" r="1.75"/>
<circle cx="344.6" cy="146.0" r="1.75"/>
<circle cx="324.5" cy="161.6" r="1.75"/>
<circle cx="324.3" cy="162.6" r="1.75"/>
<circle cx="343.0" cy="139.4" r="1.75"/>
<circle cx="336.4" cy="156.0" r="1.75"/>
<circle cx="320.0" cy="164.7" r="1.75"/>
<circle cx="333.4" cy="153.8" r="1.75"/>
<circle cx="333.3" cy="159.5" r="1.75"/>
<circle cx="346.3" cy="146.1" r="1.75"/>
<circle cx="341.5" cy="142.3" r="1.75"/>
<circle cx="339.8" cy="146.9" r="1.75"/>
<circle cx="345.2" cy="144.7" r="1.75"/>
<circle cx="319.3" cy="161.9" r="1.75"/>
<circle cx="333.8" cy="154.1" r="1.75"/>
<circle cx="343.3" cy="144.6" r="1.75"/>
<circle cx="340.3" cy="151.0" r="1.75"/>
<circle cx="325.1" cy="162.0" r="1.75"/>
<circle cx="341.5" cy="149.2" r="1.75"/>
<circle cx="329.1" cy="154.0" r="1.75"/>
<circle cx="340.1" cy="149.1" r="1.75"/>
<circle cx="339.0" cy="148.4" r="1.75"/>
<circle cx="329.1" cy="165.8" r="1.75"/>
<circle cx="322.6" cy="157.2" r="1.75"/>
<circle cx="346.7" cy="137.0" r="1.75"/>
<circle cx="333.0" cy="149.6" r="1.75"/>
<circle cx="328.6" cy="159.2" r="1.75"/>
<circle cx="319.3" cy="166.1" r="1.75"/>
<circle cx="329.3" cy="156.4" r="1.75"/>
<circle cx="324.0" cy="165.1" r="1.75"/>
<circle cx="322.5" cy="159.2" r="1.75"/>
<circle cx="344.9" cy="149.6" r="1.75"/>
<circle cx="336.5" cy="148.9" r="1.75"/>
<circle cx="323.3" cy="156.0" r="1.75"/>
<circle cx="343.4" cy="156.6" r="1.75"/>
<circle cx="322.4" cy="161.0" r="1.75"/>
<circle cx="339.6" cy="153.6" r="1.75"/>
<circle cx="328.5" cy="163.8" r="1.75"/>
<circle cx="337.2" cy="154.8" r="1.75"/>
<circle cx="327.6" cy="159.6" r="1.75"/>
<circle cx="330.8" cy="152.3" r="1.75"/>
<circle cx="323.5" cy="166.7" r="1.75"/>
<circle cx="325.5" cy="155.8" r="1.75"/>
<circle cx="344.3" cy="139.7" r="1.75"/>
<circle cx="349.0" cy="142.5" r="1.75"/>
<circle cx="348.3" cy="143.2" r="1.75"/>
<circle cx="341.7" cy="149.5" r="1.75"/>
<circle cx="340.7" cy="154.9" r="1.75"/>
<circle cx="330.7" cy="154.4" r="1.75"/>
<circle cx="328.0" cy="156.8" r="1.75"/>
<circle cx="341.3" cy="146.8" r="1.75"/>
<circle cx="330.1" cy="147.7" r="1.75"/>
<circle cx="336.9" cy="149.6" r="1.75"/>
<circle cx="342.4" cy="147.3" r="1.75"/>
<circle cx="325.4" cy="153.8" r="1.75"/>
<circle cx="338.7" cy="156.9" r="1.75"/>
<circle cx="335.4" cy="158.1" r="1.75"/>
<circle cx="336.9" cy="154.0" r="1.75"/>
<circle cx="346.6" cy="149.1" r="1.75"/>
<circle cx="322.9" cy="159.0" r="1.75"/>
<circle cx="327.4" cy="160.1" r="1.75"/>
<circle cx="322.0" cy="155.4" r="1.75"/>
<circle cx="344.5" cy="141.5" r="1.75"/>
<circle cx="327.7" cy="155.5" r="1.75"/>
<circle cx="332.4" cy="157.1" r="1.75"/>
<circle cx="324.9" cy="158.0" r="1.75"/>
<circle cx="322.9" cy="158.6" r="1.75"/>
<circle cx="334.5" cy="158.4" r="1.75"/>
<circle cx="336.2" cy="151.6" r="1.75"/>
<circle cx="318.6" cy="161.9" r="1.75"/>
<circle cx="346.5" cy="145.6" r="1.75"/>
<circle cx="336.1" cy="146.7" r="1.75"/>
<circle cx="340.9" cy="145.0" r="1.75"/>
<circle cx="346.8" cy="149.6" r="1.75"/>
<circle cx="340.9" cy="149.5" r="1.75"/>
<circle cx="326.6" cy="162.7" r="1.75"/>
<circle cx="325.7" cy="157.6" r="1.75"/>
<circle cx="324.3" cy="164.4" r="1.75"/>
<circle cx="338.1" cy="148.0" r="1.75"/>
<circle cx="330.9" cy="154.9" r="1.75"/>
<circle cx="326.1" cy="155.7" r="1.75"/>
<circle cx="339.4" cy="151.5" r="1.75"/>
<circle cx="327.1" cy="164.9" r="1.75"/>
<circle cx="328.7" cy="150.8" r="1.75"/>
<circle cx="332.2" cy="156.3" r="1.75"/>
<circle cx="339.6" cy="145.2" r="1.75"/>
<circle cx="322.4" cy="160.5" r="1.75"/>
<circle cx="321.7" cy="159.9" r="1.75"/>
<circle cx="320.2" cy="156.3" r="1.75"/>
<circle cx="330.7" cy="155.2" r="1.75"/>
<circle cx="322.1" cy="156.7" r="1.75"/>
<circle cx="325.2" cy="166.3" r="1.75"/>
<circle cx="333.8" cy="151.0" r="1.75"/>
<circle cx="349.1" cy="145.9" r="1.75"/>
<circle cx="340.4" cy="150.8" r="1.75"/>
<circle cx="347.1" cy="146.0" r="1.75"/>
<circle cx="335.9" cy="151.8" r="1.75"/>
<circle cx="341.8" cy="142.7" r="1.75"/>
<circle cx="340.3" cy="157.9" r="1.75"/>
<circle cx="350.1" cy="144.1" r="1.75"/>
<circle cx="326.0" cy="162.6" r="1.75"/>
<circle cx="333.8" cy="149.8" r="1.75"/>
<circle cx="338.6" cy="153.2" r="1.75"/>
<circle cx="323.3" cy="159.7" r="1.75"/>
<circle cx="332.4" cy="157.1" r="1.75"/>
<circle cx="333.1" cy="152.3" r="1.75"/>
<circle cx="322.4" cy="158.1" r="1.75"/>
<circle cx="327.9" cy="160.0" r="1.75"/>
<circle cx="341.2" cy="149.6" r="1.75"/>
<circle cx="346.3" cy="152.3" r="1.75"/>
<circle cx="332.1" cy="154.4" r="1.75"/>
<circle cx="336.0" cy="149.6" r="1.75"/>
<circle cx="324.3" cy="163.1" r="1.75"/>
<circle cx="328.2" cy="153.7" r="1.75"/>
<circle cx="325.7" cy="167.5" r="1.75"/>
<circle cx="334.2" cy="161.8" r="1.75"/>
<circle cx="324.6" cy="165.0" r="1.75"/>
<circle cx="324.2" cy="162.9" r="1.75"/>
<circle cx="342.6" cy="148.8" r="1.75"/>
<circle cx="338.2" cy="152.0" r="1.75"/>
<circle cx="338.1" cy="152.1" r="1.75"/>
<circle cx="327.8" cy="155.6" r="1.75"/>
<circle cx="341.8" cy="151.3" r="1.75"/>
<circle cx="340.9" cy="155.1" r="1.75"/>
<circle cx="336.1" cy="158.1" r="1.75"/>
<circle cx="343.0" cy="140.1" r="1.75"/>
<circle cx="329.3" cy="165.5" r="1.75"/>
<circle cx="325.8" cy="160.6" r="1.75"/>
<circle cx="333.9" cy="148.6" r="1.75"/>
<circle cx="330.0" cy="155.1" r="1.75"/>
<circle cx="332.3" cy="158.9" r="1.75"/>
<circle cx="328.7" cy="157.9" r="1.75"/>
<circle cx="324.4" cy="157.3" r="1.75"/>
<circle cx="347.5" cy="141.0" r="1.75"/>
<circle cx="337.1" cy="156.1" r="1.75"/>
<circle cx="343.0" cy="145.6" r="1.75"/>
<circle cx="329.0" cy="156.7" r="1.75"/>
<circle cx="328.4" cy="153.6" r="1.75"/>
<circle cx="334.9" cy="148.2" r="1.75"/>
<circle cx="323.3" cy="162.9" r="1.75"/>
<circle cx="336.9" cy="158.4" r="1.75"/>
<circle cx="326.7" cy="157.7" r="1.75"/>
<circle cx="349.6" cy="137.3" r="1.75"/>
<circle cx="345.7" cy="144.2" r="1.75"/>
<circle cx="318.8" cy="163.7" r="1.75"/>
<circle cx="326.4" cy="150.1" r="1.75"/>
<circle cx="322.5" cy="165.2" r="1.75"/>
<circle cx="346.1" cy="143.1" r="1.75"/>
<circle cx="318.8" cy="166.8" r="1.75"/>
<circle cx="349.2" cy="144.6" r="1.75"/>
<circle cx="347.4" cy="145.6" r="1.75"/>
<circle cx="330.4" cy="150.7" r="1.75"/>
<circle cx="338.9" cy="155.1" r="1.75"/>
<circle cx="341.4" cy="151.8" r="1.75"/>
<circle cx="348.0" cy="152.0" r="1.75"/>
<circle cx="324.4" cy="158.8" r="1.75"/>
<circle cx="327.2" cy="160.8" r="1.75"/>
<circle cx="330.4" cy="155.0" r="1.75"/>
<circle cx="329.7" cy="161.6" r="1.75"/>
<circle cx="337.9" cy="153.3" r="1.75"/>
<circle cx="330.7" cy="152.4" r="1.75"/>
<circle cx="333.0" cy="155.8" r="1.75"/>
<circle cx="334.5" cy="151.5" r="1.75"/>
<circle cx="327.6" cy="156.5" r="1.75"/>
<circle cx="344.7" cy="149.0" r="1.75"/>
<circle cx="340.9" cy="156.3" r="1.75"/>
<circle cx="345.6" cy="143.0" r="1.75"/>
<circle cx="346.5" cy="145.8" r="1.75"/>
<circle cx="324.8" cy="156.5" r="1.75"/>
<circle cx="327.3" cy="167.0" r="1.75"/>
<circle cx="346.4" cy="153.2" r="1.75"/>
<circle cx="325.3" cy="165.1" r="1.75"/>
<circle cx="327.3" cy="162.4" r="1.75"/>
<circle cx="343.0" cy="144.4" r="1.75"/>
<circle cx="318.4" cy="162.6" r="1.75"/>
<circle cx="326.7" cy="159.4" r="1.75"/>
<circle cx="324.9" cy="159.9" r="1.75"/>
<circle cx="334.0" cy="151.3" r="1.75"/>
<circle cx="342.7" cy="150.1" r="1.75"/>
<circle cx="338.5" cy="149.9" r="1.75"/>
<circle cx="336.0" cy="152.5" r="1.75"/>
<circle cx="322.2" cy="167.0" r="1.75"/>
<circle cx="341.1" cy="151.4" r="1.75"/>
<circle cx="323.1" cy="156.2" r="1.75"/>
<circle cx="332.7" cy="156.9" r="1.75"/>
<circle cx="349.6" cy="145.1" r="1.75"/>
<circle cx="346.3" cy="149.1" r="1.75"/>
<circle cx="354.6" cy="143.5" r="1.75"/>
<circle cx="359.1" cy="134.4" r="1.75"/>
<circle cx="386.9" cy="124.9" r="1.75"/>
<circle cx="370.5" cy="136.6" r="1.75"/>
<circle cx="371.2" cy="141.4" r="1.75"/>
<circle cx="372.6" cy="133.6" r="1.75"/>
<circle cx="367.3" cy="142.2" r="1.75"/>
<circle cx="368.2" cy="141.1" r="1.75"/>
<circle cx="346.1" cy="143.5" r="1.75"/>
<circle cx="353.3" cy="139.5" r="1.75"/>
<circle cx="356.1" cy="148.4" r="1.75"/>
<circle cx="362.2" cy="133.6" r="1.75"/>
<circle cx="368.8" cy="131.5" r="1.75"/>
<circle cx="376.5" cy="132.4" r="1.75"/>
<circle cx="377.1" cy="125.9" r="1.75"/>
<circle cx="368.2" cy="140.3" r="1.75"/>
<circle cx="351.8" cy="148.1" r="1.75"/>
<circle cx="368.2" cy="139.6" r="1.75"/>
<circle cx="353.2" cy="146.9" r="1.75"/>
<circle cx="359.8" cy="134.9" r="1.75"/>
<circle cx="366.2" cy="140.2" r="1.75"/>
<circle cx="376.5" cy="133.8" r="1.75"/>
<circle cx="357.8" cy="143.5" r="1.75"/>
<circle cx="376.5" cy="128.4" r="1.75"/>
<circle cx="361.0" cy="139.2" r="1.75"/>
<circle cx="377.5" cy="125.1" r="1.75"/>
<circle cx="377.2" cy="131.7" r="1.75"/>
<circle cx="363.2" cy="141.8" r="1.75"/>
<circle cx="379.8" cy="129.5" r="1.75"/>
<circle cx="343.8" cy="148.0" r="1.75"/>
<circle cx="360.1" cy="142.1" r="1.75"/>
<circle cx="347.1" cy="145.0" r="1.75"/>
<circle cx="384.5" cy="117.6" r="1.75"/>
<circle cx="349.7" cy="146.9" r="1.75"/>
<circle cx="369.5" cy="132.8" r="1.75"/>
<circle cx="374.2" cy="124.9" r="1.75"/>
<circle cx="357.8" cy="142.3" r="1.75"/>
<circle cx="387.0" cy="127.2" r="1.75"/>
<circle cx="377.5" cy="133.1" r="1.75"/>
<circle cx="387.5" cy="121.9" r="1.75"/>
<circle cx="347.0" cy="144.1" r="1.75"/>
<circle cx="361.6" cy="138.1" r="1.75"/>
<circle cx="344.0" cy="147.9" r="1.75"/>
<circle cx="387.9" cy="118.2" r="1.75"/>
<circle cx="362.3" cy="133.6" r="1.75"/>
<circle cx="354.5" cy="147.4" r="1.75"/>
<circle cx="346.0" cy="146.9" r="1.75"/>
<circle cx="363.3" cy="136.1" r="1.75"/>
<circle cx="374.2" cy="127.6" r="1.75"/>
<circle cx="385.9" cy="125.3" r="1.75"/>
<circle cx="358.3" cy="142.1" r="1.75"/>
<circle cx="354.2" cy="143.8" r="1.75"/>
<circle cx="348.1" cy="152.8" r="1.75"/>
<circle cx="382.3" cy="126.3" r="1.75"/>
<circle cx="365.6" cy="137.7" r="1.75"/>
<circle cx="350.5" cy="142.2" r="1.75"/>
<circle cx="351.8" cy="147.5" r="1.75"/>
<circle cx="379.2" cy="129.6" r="1.75"/>
<circle cx="363.1" cy="140.7" r="1.75"/>
<circle cx="368.1" cy="138.2" r="1.75"/>
<circle cx="363.2" cy="133.8" r="1.75"/>
<circle cx="348.1" cy="147.5" r="1.75"/>
<circle cx="379.7" cy="125.8" r="1.75"/>
<circle cx="349.4" cy="149.4" r="1.75"/>
<circle cx="378.6" cy="127.8" r="1.75"/>
<circle cx="348.4" cy="152.3" r="1.75"/>
<circle cx="343.7" cy="150.3" r="1.75"/>
<circle cx="383.2" cy="127.8" r="1.75"/>
<circle cx="377.9" cy="126.2" r="1.75"/>
<circle cx="347.1" cy="145.5" r="1.75"/>
<circle cx="378.0" cy="129.2" r="1.75"/>
<circle cx="360.2" cy="135.0" r="1.75"/>
<circle cx="384.6" cy="124.3" r="1.75"/>
<circle cx="345.3" cy="145.2" r="1.75"/>
<circle cx="365.2" cy="132.4" r="1.75"/>
<circle cx="366.3" cy="135.2" r="1.75"/>
<circle cx="364.7" cy="137.1" r="1.75"/>
<circle cx="371.3" cy="130.9" r="1.75"/>
<circle cx="387.3" cy="125.4" r="1.75"/>
<circle cx="354.4" cy="140.2" r="1.75"/>
<circle cx="380.5" cy="122.7" r="1.75"/>
<circle cx="370.9" cy="128.9" r="1.75"/>
<circle cx="351.0" cy="145.4" r="1.75"/>
<circle cx="345.0" cy="152.8" r="1.75"/>
<circle cx="344.3" cy="148.3" r="1.75"/>
<circle cx="354.1" cy="142.5" r="1.75"/>
<circle cx="357.0" cy="135.8" r="1.75"/>
<circle cx="355.1" cy="143.0" r="1.75"/>
<circle cx="358.7" cy="140.2" r="1.75"/>
<circle cx="366.6" cy="131.8" r="1.75"/>
<circle cx="350.9" cy="145.9" r="1.75"/>
<circle cx="344.5" cy="148.5" r="1.75"/>
<circle cx="356.7" cy="133.6" r="1.75"/>
<circle cx="375.7" cy="123.8" r="1.75"/>
<circle cx="376.7" cy="126.7" r="1.75"/>
<circle cx="359.3" cy="137.9" r="1.75"/>
<circle cx="350.4" cy="148.2" r="1.75"/>
<circle cx="349.3" cy="142.7" r="1.75"/>
<circle cx="386.9" cy="123.7" r="1.75"/>
<circle cx="356.0" cy="140.0" r="1.75"/>
<circle cx="381.6" cy="128.8" r="1.75"/>
<circle cx="370.0" cy="132.9" r="1.75"/>
<circle cx="363.9" cy="137.1" r="1.75"/>
<circle cx="355.8" cy="139.8" r="1.75"/>
<circle cx="365.6" cy="129.6" r="1.75"/>
<circle cx="343.9" cy="146.8" r="1.75"/>
<circle cx="364.0" cy="143.0" r="1.75"/>
<circle cx="354.5" cy="145.7" r="1.75"/>
<circle cx="370.3" cy="139.2" r="1.75"/>
<circle cx="364.9" cy="139.0" r="1.75"/>
<circle cx="347.4" cy="143.9" r="1.75"/>
<circle cx="382.5" cy="124.6" r="1.75"/>
<circle cx="363.4" cy="139.1" r="1.75"/>
<circle cx="352.3" cy="142.0" r="1.75"/>
<circle cx="350.7" cy="147.2" r="1.75"/>
<circle cx="348.1" cy="151.5" r="1.75"/>
<circle cx="353.2" cy="148.3" r="1.75"/>
<circle cx="363.8" cy="139.9" r="1.75"/>
<circle cx="371.9" cy="126.1" r="1.75"/>
<circle cx="356.6" cy="146.0" r="1.75"/>
<circle cx="388.0" cy="118.4" r="1.75"/>
<circle cx="350.5" cy="138.8" r="1.75"/>
<circle cx="362.8" cy="137.7" r="1.75"/>
<circle cx="359.8" cy="138.9" r="1.75"/>
<circle cx="361.3" cy="140.3" r="1.75"/>
<circle cx="376.0" cy="129.8" r="1.75"/>
<circle cx="374.0" cy="128.1" r="1.75"/>
<circle cx="375.3" cy="130.0" r="1.75"/>
<circle cx="361.3" cy="133.8" r="1.75"/>
<circle cx="364.8" cy="131.0" r="1.75"/>
<circle cx="373.7" cy="129.5" r="1.75"/>
<circle cx="379.5" cy="126.5" r="1.75"/>
<circle cx="377.8" cy="128.9" r="1.75"/>
<circle cx="363.0" cy="135.5" r="1.75"/>
<circle cx="380.7" cy="131.7" r="1.75"/>
<circle cx="355.0" cy="139.9" r="1.75"/>
<circle cx="382.2" cy="125.5" r="1.75"/>
<circle cx="343.6" cy="152.0" r="1.75"/>
<circle cx="354.3" cy="133.2" r="1.75"/>
<circle cx="381.9" cy="130.5" r="1.75"/>
<circle cx="387.3" cy="127.3" r="1.75"/>
<circle cx="354.7" cy="140.6" r="1.75"/>
<circle cx="352.6" cy="150.8" r="1.75"/>
<circle cx="357.3" cy="143.4" r="1.75"/>
<circle cx="359.8" cy="144.9" r="1.75"/>
<circle cx="346.7" cy="150.5" r="1.75"/>
<circle cx="353.5" cy="142.9" r="1.75"/>
<circle cx="383.7" cy="124.3" r="1.75"/>
<circle cx="380.2" cy="123.0" r="1.75"/>
<circle cx="357.0" cy="137.1" r="1.75"/>
<circle cx="385.7" cy="119.8" r="1.75"/>
<circle cx="375.2" cy="127.7" r="1.75"/>
<circle cx="353.3" cy="144.4" r="1.75"/>
<circle cx="375.1" cy="125.6" r="1.75"/>
<circle cx="352.0" cy="145.3" r="1.75"/>
<circle cx="361.5" cy="140.2" r="1.75"/>
<circle cx="351.8" cy="137.3" r="1.75"/>
<circle cx="362.0" cy="134.2" r="1.75"/>
<circle cx="345.3" cy="146.5" r="1.75"/>
<circle cx="382.9" cy="123.0" r="1.75"/>
<circle cx="351.2" cy="140.3" r="1.75"/>
<circle cx="344.5" cy="153.4" r="1.75"/>
<circle cx="377.3" cy="129.3" r="1.75"/>
<circle cx="356.9" cy="145.2" r="1.75"/>
<circle cx="351.9" cy="142.9" r="1.75"/>
<circle cx="369.5" cy="135.9" r="1.75"/>
<circle cx="368.5" cy="128.3" r="1.75"/>
<circle cx="347.5" cy="143.9" r="1.75"/>
<circle cx="388.2" cy="126.6" r="1.75"/>
<circle cx="359.5" cy="139.0" r="1.75"/>
<circle cx="360.7" cy="143.1" r="1.75"/>
<circle cx="366.9" cy="134.5" r="1.75"/>
<circle cx="374.0" cy="128.5" r="1.75"/>
<circle cx="361.0" cy="137.0" r="1.75"/>
<circle cx="377.7" cy="136.6" r="1.75"/>
<circle cx="382.6" cy="127.5" r="1.75"/>
<circle cx="382.3" cy="124.3" r="1.75"/>
<circle cx="348.4" cy="144.3" r="1.75"/>
<circle cx="351.6" cy="138.9" r="1.75"/>
<circle cx="357.1" cy="145.5" r="1.75"/>
<circle cx="374.3" cy="128.4" r="1.75"/>
<circle cx="371.7" cy="134.7" r="1.75"/>
<circle cx="382.0" cy="125.7" r="1.75"/>
<circle cx="379.6" cy="126.1" r="1.75"/>
<circle cx="350.9" cy="141.2" r="1.75"/>
<circle cx="354.3" cy="144.3" r="1.75"/>
<circle cx="360.8" cy="137.4" r="1.75"/>
<circle cx="373.8" cy="135.6" r="1.75"/>
<circle cx="347.3" cy="151.9" r="1.75"/>
<circle cx="372.6" cy="129.2" r="1.75"/>
<circle cx="351.4" cy="143.9" r="1.75"/>
<circle cx="371.4" cy="138.7" r="1.75"/>
<circle cx="392.7" cy="124.6" r="1.75"/>
<circle cx="394.1" cy="120.4" r="1.75"/>
<circle cx="392.8" cy="114.8" r="1.75"/>
<circle cx="384.7" cy="120.9" r="1.75"/>
<circle cx="401.3" cy="113.7" r="1.75"/>
<circle cx="400.9" cy="124.4" r="1.75"/>
<circle cx="383.3" cy="126.2" r="1.75"/>
<circle cx="400.5" cy="115.5" r="1.75"/>
<circle cx="392.7" cy="119.5" r="1.75"/>
<circle cx="385.0" cy="123.3" r="1.75"/>
<circle cx="398.1" cy="119.4" r="1.75"/>
<circle cx="390.8" cy="114.9" r="1.75"/>
<circle cx="396.1" cy="113.5" r="1.75"/>
<circle cx="398.2" cy="118.8" r="1.75"/>
<circle cx="392.8" cy="125.0" r="1.75"/>
<circle cx="383.5" cy="117.4" r="1.75"/>
<circle cx="398.2" cy="120.7" r="1.75"/>
<circle cx="395.7" cy="114.8" r="1.75"/>
<circle cx="399.8" cy="109.9" r="1.75"/>
<circle cx="387.7" cy="127.4" r="1.75"/>
<circle cx="397.4" cy="117.6" r="1.75"/>
<circle cx="399.1" cy="119.4" r="1.75"/>
<circle cx="389.3" cy="120.7" r="1.75"/>
<circle cx="390.4" cy="121.0" r="1.75"/>
<circle cx="388.9" cy="115.1" r="1.75"/>
<circle cx="382.7" cy="123.7" r="1.75"/>
<circle cx="387.0" cy="124.0" r="1.75"/>
<circle cx="388.9" cy="118.4" r="1.75"/>
<circle cx="384.7" cy="126.2" r="1.75"/>
<circle cx="397.1" cy="120.5" r="1.75"/>
<circle cx="390.7" cy="113.0" r="1.75"/>
<circle cx="393.3" cy="124.1" r="1.75"/>
<circle cx="417.4" cy="93.5" r="1.75"/>
<circle cx="400.3" cy="100.4" r="1.75"/>
<circle cx="393.3" cy="102.3" r="1.75"/>
<circle cx="411.5" cy="110.0" r="1.75"/>
<circle cx="423.4" cy="122.8" r="1.75"/>
<circle cx="408.4" cy="125.1" r="1.75"/>
<circle cx="396.4" cy="129.7" r="1.75"/>
<circle cx="433.5" cy="158.3" r="1.75"/>
<circle cx="403.5" cy="157.5" r="1.75"/>
<circle cx="375.7" cy="158.8" r="1.75"/>
<circle cx="369.2" cy="148.9" r="1.75"/>
<circle cx="381.1" cy="142.7" r="1.75"/>
<circle cx="381.0" cy="137.5" r="1.75"/>
<circle cx="362.2" cy="150.4" r="1.75"/>
<circle cx="351.9" cy="154.4" r="1.75"/>
<circle cx="316.9" cy="156.7" r="1.75"/>
<circle cx="338.8" cy="134.8" r="1.75"/>
<circle cx="344.6" cy="133.7" r="1.75"/>
<circle cx="334.4" cy="140.7" r="1.75"/>
<circle cx="516.0" cy="25.5" r="1.75"/>
<circle cx="528.0" cy="51.3" r="1.75"/>
<circle cx="461.8" cy="128.7" r="1.75"/>
</g></g>
<path d="M312.05 174.9 v-3.2 M305.6 170.30 h3.2 M375.05 174.9 v-3.2 M305.6 126.20 h3.2 M438.05 174.9 v-3.2 M305.6 82.10 h3.2 M501.05 174.9 v-3.2 M305.6 38.00 h3.2" stroke="#111" stroke-width="1" fill="none"/>
<rect x="305.6" y="11.8" width="233.6" height="163.1" fill="none" stroke="#111" stroke-width="1.4"/>
<line x1="322.2" y1="28.8" x2="345.8" y2="28.8" stroke="#111" stroke-width="1"/>
<line x1="322.2" y1="41.8" x2="345.8" y2="41.8" stroke="#333" stroke-width="1" stroke-dasharray="1 1"/>
<text class="lg" x="352.0" y="32.0">Regression line</text>
<text class="lg" x="352.0" y="45.2">1:1 line</text>
<text class="pn" x="524.2" y="165.6" text-anchor="end">Cubist</text>
<clipPath id="cRF"><rect x="65.6" y="184.6" width="233.5" height="163.4"/></clipPath>
<g clip-path="url(#cRF)">
<line x1="65.6" y1="348.0" x2="299.1" y2="184.6" stroke="#333" stroke-width="0.9" stroke-dasharray="1.3 0.4"/>
<line x1="64.49" y1="343.28" x2="301.37" y2="208.97" stroke="#111" stroke-width="1.0"/>
<g fill="none" stroke="#111" stroke-width="1.0">
<circle cx="96.4" cy="326.2" r="1.75"/>
<circle cx="89.5" cy="325.8" r="1.75"/>
<circle cx="86.4" cy="329.4" r="1.75"/>
<circle cx="95.2" cy="323.6" r="1.75"/>
<circle cx="102.0" cy="316.3" r="1.75"/>
<circle cx="82.2" cy="332.0" r="1.75"/>
<circle cx="107.3" cy="313.6" r="1.75"/>
<circle cx="102.4" cy="318.8" r="1.75"/>
<circle cx="82.6" cy="332.3" r="1.75"/>
<circle cx="92.6" cy="324.2" r="1.75"/>
<circle cx="107.8" cy="316.6" r="1.75"/>
<circle cx="84.2" cy="328.9" r="1.75"/>
<circle cx="81.3" cy="331.2" r="1.75"/>
<circle cx="94.3" cy="323.8" r="1.75"/>
<circle cx="91.7" cy="324.6" r="1.75"/>
<circle cx="84.3" cy="329.6" r="1.75"/>
<circle cx="106.6" cy="316.7" r="1.75"/>
<circle cx="79.1" cy="332.8" r="1.75"/>
<circle cx="102.0" cy="319.4" r="1.75"/>
<circle cx="105.1" cy="316.0" r="1.75"/>
<circle cx="103.5" cy="319.7" r="1.75"/>
<circle cx="85.9" cy="329.1" r="1.75"/>
<circle cx="91.7" cy="324.9" r="1.75"/>
<circle cx="95.9" cy="324.1" r="1.75"/>
<circle cx="79.8" cy="333.7" r="1.75"/>
<circle cx="85.4" cy="330.3" r="1.75"/>
<circle cx="88.5" cy="326.6" r="1.75"/>
<circle cx="103.2" cy="319.5" r="1.75"/>
<circle cx="85.1" cy="329.3" r="1.75"/>
<circle cx="108.7" cy="312.0" r="1.75"/>
<circle cx="90.8" cy="325.6" r="1.75"/>
<circle cx="94.0" cy="326.4" r="1.75"/>
<circle cx="79.0" cy="333.7" r="1.75"/>
<circle cx="101.1" cy="317.8" r="1.75"/>
<circle cx="96.6" cy="322.8" r="1.75"/>
<circle cx="83.3" cy="329.6" r="1.75"/>
<circle cx="97.0" cy="321.1" r="1.75"/>
<circle cx="96.7" cy="321.6" r="1.75"/>
<circle cx="92.3" cy="325.5" r="1.75"/>
<circle cx="107.9" cy="316.3" r="1.75"/>
<circle cx="84.2" cy="330.7" r="1.75"/>
<circle cx="91.2" cy="325.7" r="1.75"/>
<circle cx="104.3" cy="316.6" r="1.75"/>
<circle cx="89.7" cy="326.2" r="1.75"/>
<circle cx="91.9" cy="325.8" r="1.75"/>
<circle cx="89.3" cy="326.9" r="1.75"/>
<circle cx="83.9" cy="330.1" r="1.75"/>
<circle cx="87.5" cy="330.3" r="1.75"/>
<circle cx="90.8" cy="327.2" r="1.75"/>
<circle cx="94.1" cy="325.1" r="1.75"/>
<circle cx="110.1" cy="314.4" r="1.75"/>
<circle cx="81.6" cy="332.4" r="1.75"/>
<circle cx="94.1" cy="324.3" r="1.75"/>
<circle cx="86.3" cy="330.1" r="1.75"/>
<circle cx="94.9" cy="322.4" r="1.75"/>
<circle cx="96.4" cy="322.0" r="1.75"/>
<circle cx="84.9" cy="331.9" r="1.75"/>
<circle cx="106.5" cy="316.2" r="1.75"/>
<circle cx="98.9" cy="322.7" r="1.75"/>
<circle cx="110.7" cy="310.4" r="1.75"/>
<circle cx="80.1" cy="333.6" r="1.75"/>
<circle cx="108.6" cy="315.7" r="1.75"/>
<circle cx="101.3" cy="319.2" r="1.75"/>
<circle cx="90.2" cy="326.7" r="1.75"/>
<circle cx="89.6" cy="326.9" r="1.75"/>
<circle cx="82.8" cy="329.5" r="1.75"/>
<circle cx="106.5" cy="315.8" r="1.75"/>
<circle cx="95.1" cy="322.0" r="1.75"/>
<circle cx="97.1" cy="320.3" r="1.75"/>
<circle cx="102.0" cy="320.7" r="1.75"/>
<circle cx="83.9" cy="328.5" r="1.75"/>
<circle cx="97.4" cy="320.7" r="1.75"/>
<circle cx="84.0" cy="329.3" r="1.75"/>
<circle cx="99.3" cy="322.0" r="1.75"/>
<circle cx="100.8" cy="318.4" r="1.75"/>
<circle cx="97.0" cy="321.5" r="1.75"/>
<circle cx="107.1" cy="316.9" r="1.75"/>
<circle cx="92.8" cy="321.4" r="1.75"/>
<circle cx="89.8" cy="325.9" r="1.75"/>
<circle cx="79.8" cy="333.5" r="1.75"/>
<circle cx="89.8" cy="326.4" r="1.75"/>
<circle cx="91.1" cy="324.5" r="1.75"/>
<circle cx="100.0" cy="318.3" r="1.75"/>
<circle cx="105.2" cy="315.9" r="1.75"/>
<circle cx="108.0" cy="313.0" r="1.75"/>
<circle cx="91.1" cy="323.8" r="1.75"/>
<circle cx="96.8" cy="324.2" r="1.75"/>
<circle cx="83.5" cy="331.4" r="1.75"/>
<circle cx="91.5" cy="326.9" r="1.75"/>
<circle cx="104.3" cy="317.4" r="1.75"/>
<circle cx="108.6" cy="312.2" r="1.75"/>
<circle cx="104.2" cy="316.4" r="1.75"/>
<circle cx="80.6" cy="333.9" r="1.75"/>
<circle cx="90.8" cy="326.5" r="1.75"/>
<circle cx="92.6" cy="323.4" r="1.75"/>
<circle cx="106.1" cy="317.4" r="1.75"/>
<circle cx="90.0" cy="326.7" r="1.75"/>
<circle cx="80.8" cy="332.3" r="1.75"/>
<circle cx="78.8" cy="335.9" r="1.75"/>
<circle cx="101.8" cy="317.8" r="1.75"/>
<circle cx="98.5" cy="320.6" r="1.75"/>
<circle cx="79.0" cy="333.2" r="1.75"/>
<circle cx="107.6" cy="317.4" r="1.75"/>
<circle cx="94.7" cy="324.7" r="1.75"/>
<circle cx="104.0" cy="318.8" r="1.75"/>
<circle cx="100.3" cy="319.6" r="1.75"/>
<circle cx="88.8" cy="327.2" r="1.75"/>
<circle cx="88.5" cy="327.4" r="1.75"/>
<circle cx="94.0" cy="321.3" r="1.75"/>
<circle cx="83.9" cy="328.9" r="1.75"/>
<circle cx="104.6" cy="318.7" r="1.75"/>
<circle cx="84.5" cy="330.9" r="1.75"/>
<circle cx="84.3" cy="328.2" r="1.75"/>
<circle cx="103.0" cy="318.9" r="1.75"/>
<circle cx="96.4" cy="320.3" r="1.75"/>
<circle cx="80.0" cy="331.3" r="1.75"/>
<circle cx="93.4" cy="325.2" r="1.75"/>
<circle cx="93.3" cy="324.8" r="1.75"/>
<circle cx="106.3" cy="316.2" r="1.75"/>
<circle cx="101.5" cy="320.8" r="1.75"/>
<circle cx="99.8" cy="321.9" r="1.75"/>
<circle cx="105.2" cy="317.7" r="1.75"/>
<circle cx="79.3" cy="332.7" r="1.75"/>
<circle cx="93.8" cy="324.8" r="1.75"/>
<circle cx="103.3" cy="318.5" r="1.75"/>
<circle cx="100.3" cy="320.8" r="1.75"/>
<circle cx="85.1" cy="331.5" r="1.75"/>
<circle cx="101.5" cy="316.8" r="1.75"/>
<circle cx="89.1" cy="330.3" r="1.75"/>
<circle cx="100.1" cy="321.2" r="1.75"/>
<circle cx="99.0" cy="319.9" r="1.75"/>
<circle cx="89.1" cy="329.0" r="1.75"/>
<circle cx="82.6" cy="330.7" r="1.75"/>
<circle cx="106.7" cy="313.7" r="1.75"/>
<circle cx="93.0" cy="325.9" r="1.75"/>
<circle cx="88.6" cy="327.2" r="1.75"/>
<circle cx="79.3" cy="334.8" r="1.75"/>
<circle cx="89.3" cy="326.3" r="1.75"/>
<circle cx="84.0" cy="330.4" r="1.75"/>
<circle cx="82.5" cy="331.2" r="1.75"/>
<circle cx="104.9" cy="314.7" r="1.75"/>
<circle cx="96.5" cy="321.7" r="1.75"/>
<circle cx="83.3" cy="329.3" r="1.75"/>
<circle cx="103.4" cy="317.0" r="1.75"/>
<circle cx="82.4" cy="332.9" r="1.75"/>
<circle cx="99.6" cy="320.0" r="1.75"/>
<circle cx="88.5" cy="326.9" r="1.75"/>
<circle cx="97.2" cy="324.3" r="1.75"/>
<circle cx="87.6" cy="326.4" r="1.75"/>
<circle cx="90.8" cy="325.9" r="1.75"/>
<circle cx="83.5" cy="330.4" r="1.75"/>
<circle cx="85.5" cy="330.6" r="1.75"/>
<circle cx="104.3" cy="317.4" r="1.75"/>
<circle cx="109.0" cy="314.1" r="1.75"/>
<circle cx="108.3" cy="315.7" r="1.75"/>
<circle cx="101.7" cy="319.0" r="1.75"/>
<circle cx="100.7" cy="323.4" r="1.75"/>
<circle cx="90.7" cy="324.2" r="1.75"/>
<circle cx="88.0" cy="329.3" r="1.75"/>
<circle cx="101.3" cy="323.1" r="1.75"/>
<circle cx="90.1" cy="327.8" r="1.75"/>
<circle cx="96.9" cy="323.5" r="1.75"/>
<circle cx="102.4" cy="317.8" r="1.75"/>
<circle cx="85.4" cy="330.7" r="1.75"/>
<circle cx="98.7" cy="320.6" r="1.75"/>
<circle cx="95.4" cy="324.6" r="1.75"/>
<circle cx="96.9" cy="318.7" r="1.75"/>
<circle cx="106.6" cy="315.1" r="1.75"/>
<circle cx="82.9" cy="328.9" r="1.75"/>
<circle cx="87.4" cy="329.6" r="1.75"/>
<circle cx="82.0" cy="331.1" r="1.75"/>
<circle cx="104.5" cy="319.1" r="1.75"/>
<circle cx="87.7" cy="327.3" r="1.75"/>
<circle cx="92.4" cy="324.1" r="1.75"/>
<circle cx="84.9" cy="331.9" r="1.75"/>
<circle cx="82.9" cy="332.6" r="1.75"/>
<circle cx="94.5" cy="325.5" r="1.75"/>
<circle cx="96.2" cy="325.0" r="1.75"/>
<circle cx="78.6" cy="334.9" r="1.75"/>
<circle cx="106.5" cy="318.0" r="1.75"/>
<circle cx="96.1" cy="324.9" r="1.75"/>
<circle cx="100.9" cy="319.5" r="1.75"/>
<circle cx="106.8" cy="315.0" r="1.75"/>
<circle cx="100.9" cy="321.9" r="1.75"/>
<circle cx="86.6" cy="329.5" r="1.75"/>
<circle cx="85.7" cy="329.4" r="1.75"/>
<circle cx="84.3" cy="330.6" r="1.75"/>
<circle cx="98.1" cy="322.5" r="1.75"/>
<circle cx="90.9" cy="324.8" r="1.75"/>
<circle cx="86.1" cy="328.0" r="1.75"/>
<circle cx="99.4" cy="319.5" r="1.75"/>
<circle cx="87.1" cy="328.7" r="1.75"/>
<circle cx="88.7" cy="324.8" r="1.75"/>
<circle cx="92.2" cy="322.7" r="1.75"/>
<circle cx="99.6" cy="321.1" r="1.75"/>
<circle cx="82.4" cy="331.7" r="1.75"/>
<circle cx="81.7" cy="330.6" r="1.75"/>
<circle cx="80.2" cy="333.9" r="1.75"/>
<circle cx="90.7" cy="325.6" r="1.75"/>
<circle cx="82.1" cy="331.7" r="1.75"/>
<circle cx="85.2" cy="330.6" r="1.75"/>
<circle cx="93.8" cy="324.5" r="1.75"/>
<circle cx="109.1" cy="317.7" r="1.75"/>
<circle cx="100.4" cy="320.9" r="1.75"/>
<circle cx="107.1" cy="319.5" r="1.75"/>
<circle cx="95.9" cy="319.3" r="1.75"/>
<circle cx="101.8" cy="316.5" r="1.75"/>
<circle cx="100.3" cy="318.0" r="1.75"/>
<circle cx="110.1" cy="313.5" r="1.75"/>
<circle cx="86.0" cy="327.9" r="1.75"/>
<circle cx="93.8" cy="322.2" r="1.75"/>
<circle cx="98.6" cy="319.5" r="1.75"/>
<circle cx="83.3" cy="329.8" r="1.75"/>
<circle cx="92.4" cy="326.3" r="1.75"/>
<circle cx="93.1" cy="324.0" r="1.75"/>
<circle cx="82.4" cy="332.2" r="1.75"/>
<circle cx="87.9" cy="329.5" r="1.75"/>
<circle cx="101.2" cy="321.4" r="1.75"/>
<circle cx="106.3" cy="315.5" r="1.75"/>
<circle cx="92.1" cy="323.7" r="1.75"/>
<circle cx="96.0" cy="324.9" r="1.75"/>
<circle cx="84.3" cy="328.2" r="1.75"/>
<circle cx="88.2" cy="325.8" r="1.75"/>
<circle cx="85.7" cy="329.9" r="1.75"/>
<circle cx="94.2" cy="324.6" r="1.75"/>
<circle cx="84.6" cy="330.2" r="1.75"/>
<circle cx="84.2" cy="329.2" r="1.75"/>
<circle cx="102.6" cy="319.3" r="1.75"/>
<circle cx="98.2" cy="323.2" r="1.75"/>
<circle cx="98.1" cy="320.9" r="1.75"/>
<circle cx="87.8" cy="330.7" r="1.75"/>
<circle cx="101.8" cy="318.9" r="1.75"/>
<circle cx="100.9" cy="317.7" r="1.75"/>
<circle cx="96.1" cy="322.2" r="1.75"/>
<circle cx="103.0" cy="317.0" r="1.75"/>
<circle cx="89.3" cy="326.4" r="1.75"/>
<circle cx="85.8" cy="328.4" r="1.75"/>
<circle cx="93.9" cy="323.9" r="1.75"/>
<circle cx="90.0" cy="327.8" r="1.75"/>
<circle cx="92.3" cy="325.4" r="1.75"/>
<circle cx="88.7" cy="327.6" r="1.75"/>
<circle cx="84.4" cy="328.7" r="1.75"/>
<circle cx="107.5" cy="312.6" r="1.75"/>
<circle cx="97.1" cy="321.4" r="1.75"/>
<circle cx="103.0" cy="319.7" r="1.75"/>
<circle cx="89.0" cy="328.2" r="1.75"/>
<circle cx="88.4" cy="327.9" r="1.75"/>
<circle cx="94.9" cy="321.4" r="1.75"/>
<circle cx="83.3" cy="330.5" r="1.75"/>
<circle cx="96.9" cy="322.3" r="1.75"/>
<circle cx="86.7" cy="329.7" r="1.75"/>
<circle cx="109.6" cy="312.6" r="1.75"/>
<circle cx="105.7" cy="316.2" r="1.75"/>
<circle cx="78.8" cy="334.0" r="1.75"/>
<circle cx="86.4" cy="328.8" r="1.75"/>
<circle cx="82.5" cy="329.5" r="1.75"/>
<circle cx="106.1" cy="316.8" r="1.75"/>
<circle cx="78.8" cy="332.2" r="1.75"/>
<circle cx="109.2" cy="312.2" r="1.75"/>
<circle cx="107.4" cy="315.6" r="1.75"/>
<circle cx="90.4" cy="325.1" r="1.75"/>
<circle cx="98.9" cy="321.2" r="1.75"/>
<circle cx="101.4" cy="320.8" r="1.75"/>
<circle cx="108.0" cy="315.8" r="1.75"/>
<circle cx="84.4" cy="331.4" r="1.75"/>
<circle cx="87.2" cy="327.8" r="1.75"/>
<circle cx="90.4" cy="326.3" r="1.75"/>
<circle cx="89.7" cy="326.0" r="1.75"/>
<circle cx="97.9" cy="320.2" r="1.75"/>
<circle cx="90.7" cy="330.5" r="1.75"/>
<circle cx="93.0" cy="324.2" r="1.75"/>
<circle cx="94.5" cy="326.4" r="1.75"/>
<circle cx="87.6" cy="327.9" r="1.75"/>
<circle cx="104.7" cy="318.9" r="1.75"/>
<circle cx="100.9" cy="319.5" r="1.75"/>
<circle cx="105.6" cy="314.3" r="1.75"/>
<circle cx="106.5" cy="319.4" r="1.75"/>
<circle cx="84.8" cy="329.7" r="1.75"/>
<circle cx="87.3" cy="328.4" r="1.75"/>
<circle cx="106.4" cy="319.8" r="1.75"/>
<circle cx="85.3" cy="328.8" r="1.75"/>
<circle cx="87.3" cy="328.3" r="1.75"/>
<circle cx="103.0" cy="319.3" r="1.75"/>
<circle cx="78.4" cy="335.0" r="1.75"/>
<circle cx="86.7" cy="324.6" r="1.75"/>
<circle cx="84.9" cy="330.4" r="1.75"/>
<circle cx="94.0" cy="326.7" r="1.75"/>
<circle cx="102.7" cy="320.2" r="1.75"/>
<circle cx="98.5" cy="321.8" r="1.75"/>
<circle cx="96.0" cy="323.3" r="1.75"/>
<circle cx="82.2" cy="331.8" r="1.75"/>
<circle cx="101.1" cy="321.3" r="1.75"/>
<circle cx="83.1" cy="330.5" r="1.75"/>
<circle cx="92.7" cy="325.6" r="1.75"/>
<circle cx="109.6" cy="317.0" r="1.75"/>
<circle cx="106.3" cy="317.9" r="1.75"/>
<circle cx="114.6" cy="312.2" r="1.75"/>
<circle cx="119.1" cy="306.9" r="1.75"/>
<circle cx="146.9" cy="292.0" r="1.75"/>
<circle cx="130.5" cy="303.1" r="1.75"/>
<circle cx="131.2" cy="301.8" r="1.75"/>
<circle cx="132.6" cy="300.5" r="1.75"/>
<circle cx="127.3" cy="299.1" r="1.75"/>
<circle cx="128.2" cy="305.0" r="1.75"/>
<circle cx="106.1" cy="315.6" r="1.75"/>
<circle cx="113.3" cy="310.7" r="1.75"/>
<circle cx="116.1" cy="312.5" r="1.75"/>
<circle cx="122.2" cy="306.5" r="1.75"/>
<circle cx="128.8" cy="302.8" r="1.75"/>
<circle cx="136.5" cy="300.2" r="1.75"/>
<circle cx="137.1" cy="297.1" r="1.75"/>
<circle cx="128.2" cy="301.0" r="1.75"/>
<circle cx="111.8" cy="310.8" r="1.75"/>
<circle cx="128.2" cy="304.0" r="1.75"/>
<circle cx="113.2" cy="311.8" r="1.75"/>
<circle cx="119.8" cy="303.1" r="1.75"/>
<circle cx="126.2" cy="307.3" r="1.75"/>
<circle cx="136.5" cy="298.4" r="1.75"/>
<circle cx="117.8" cy="307.5" r="1.75"/>
<circle cx="136.5" cy="298.6" r="1.75"/>
<circle cx="121.0" cy="306.2" r="1.75"/>
<circle cx="137.5" cy="298.0" r="1.75"/>
<circle cx="137.2" cy="296.6" r="1.75"/>
<circle cx="123.2" cy="303.4" r="1.75"/>
<circle cx="139.8" cy="297.8" r="1.75"/>
<circle cx="103.8" cy="317.6" r="1.75"/>
<circle cx="120.1" cy="308.3" r="1.75"/>
<circle cx="107.1" cy="316.6" r="1.75"/>
<circle cx="144.5" cy="294.7" r="1.75"/>
<circle cx="109.7" cy="316.5" r="1.75"/>
<circle cx="129.5" cy="301.0" r="1.75"/>
<circle cx="134.2" cy="295.7" r="1.75"/>
<circle cx="117.8" cy="305.8" r="1.75"/>
<circle cx="147.0" cy="289.6" r="1.75"/>
<circle cx="137.5" cy="301.0" r="1.75"/>
<circle cx="147.5" cy="288.5" r="1.75"/>
<circle cx="107.0" cy="317.2" r="1.75"/>
<circle cx="121.6" cy="307.4" r="1.75"/>
<circle cx="104.0" cy="314.5" r="1.75"/>
<circle cx="147.9" cy="296.1" r="1.75"/>
<circle cx="122.3" cy="304.9" r="1.75"/>
<circle cx="114.5" cy="310.9" r="1.75"/>
<circle cx="106.0" cy="316.8" r="1.75"/>
<circle cx="123.3" cy="308.3" r="1.75"/>
<circle cx="134.2" cy="299.1" r="1.75"/>
<circle cx="145.9" cy="295.3" r="1.75"/>
<circle cx="118.3" cy="307.0" r="1.75"/>
<circle cx="114.2" cy="309.1" r="1.75"/>
<circle cx="108.1" cy="317.8" r="1.75"/>
<circle cx="142.3" cy="297.3" r="1.75"/>
<circle cx="125.6" cy="305.8" r="1.75"/>
<circle cx="110.5" cy="316.1" r="1.75"/>
<circle cx="111.8" cy="315.3" r="1.75"/>
<circle cx="139.2" cy="297.3" r="1.75"/>
<circle cx="123.1" cy="306.9" r="1.75"/>
<circle cx="128.1" cy="307.7" r="1.75"/>
<circle cx="123.2" cy="307.6" r="1.75"/>
<circle cx="108.1" cy="314.3" r="1.75"/>
<circle cx="139.7" cy="300.6" r="1.75"/>
<circle cx="109.4" cy="316.3" r="1.75"/>
<circle cx="138.6" cy="293.5" r="1.75"/>
<circle cx="108.4" cy="312.6" r="1.75"/>
<circle cx="103.7" cy="320.8" r="1.75"/>
<circle cx="143.2" cy="299.3" r="1.75"/>
<circle cx="137.9" cy="297.2" r="1.75"/>
<circle cx="107.1" cy="318.1" r="1.75"/>
<circle cx="138.0" cy="298.8" r="1.75"/>
<circle cx="120.2" cy="309.1" r="1.75"/>
<circle cx="144.6" cy="293.0" r="1.75"/>
<circle cx="105.3" cy="321.6" r="1.75"/>
<circle cx="125.2" cy="310.4" r="1.75"/>
<circle cx="126.3" cy="307.5" r="1.75"/>
<circle cx="124.7" cy="303.1" r="1.75"/>
<circle cx="131.3" cy="302.2" r="1.75"/>
<circle cx="147.3" cy="298.3" r="1.75"/>
<circle cx="114.4" cy="310.4" r="1.75"/>
<circle cx="140.5" cy="294.8" r="1.75"/>
<circle cx="130.9" cy="302.7" r="1.75"/>
<circle cx="111.0" cy="314.1" r="1.75"/>
<circle cx="105.0" cy="316.3" r="1.75"/>
<circle cx="104.3" cy="315.4" r="1.75"/>
<circle cx="114.1" cy="311.3" r="1.75"/>
<circle cx="117.0" cy="308.8" r="1.75"/>
<circle cx="115.1" cy="311.2" r="1.75"/>
<circle cx="118.7" cy="309.8" r="1.75"/>
<circle cx="126.6" cy="306.6" r="1.75"/>
<circle cx="110.9" cy="313.1" r="1.75"/>
<circle cx="104.5" cy="318.0" r="1.75"/>
<circle cx="116.7" cy="310.7" r="1.75"/>
<circle cx="135.7" cy="296.9" r="1.75"/>
<circle cx="136.7" cy="297.5" r="1.75"/>
<circle cx="119.3" cy="306.7" r="1.75"/>
<circle cx="110.4" cy="317.0" r="1.75"/>
<circle cx="109.3" cy="313.5" r="1.75"/>
<circle cx="146.9" cy="295.2" r="1.75"/>
<circle cx="116.0" cy="312.2" r="1.75"/>
<circle cx="141.6" cy="298.6" r="1.75"/>
<circle cx="130.0" cy="299.5" r="1.75"/>
<circle cx="123.9" cy="304.1" r="1.75"/>
<circle cx="115.8" cy="312.2" r="1.75"/>
<circle cx="125.6" cy="307.7" r="1.75"/>
<circle cx="103.9" cy="317.8" r="1.75"/>
<circle cx="124.0" cy="307.0" r="1.75"/>
<circle cx="114.5" cy="308.0" r="1.75"/>
<circle cx="130.3" cy="306.0" r="1.75"/>
<circle cx="124.9" cy="309.7" r="1.75"/>
<circle cx="107.4" cy="316.2" r="1.75"/>
<circle cx="142.5" cy="295.7" r="1.75"/>
<circle cx="123.4" cy="306.0" r="1.75"/>
<circle cx="112.3" cy="311.2" r="1.75"/>
<circle cx="110.7" cy="309.6" r="1.75"/>
<circle cx="108.1" cy="315.9" r="1.75"/>
<circle cx="113.2" cy="313.3" r="1.75"/>
<circle cx="123.8" cy="310.1" r="1.75"/>
<circle cx="131.9" cy="300.9" r="1.75"/>
<circle cx="116.6" cy="308.4" r="1.75"/>
<circle cx="148.0" cy="293.6" r="1.75"/>
<circle cx="110.5" cy="311.5" r="1.75"/>
<circle cx="122.8" cy="306.5" r="1.75"/>
<circle cx="119.8" cy="305.0" r="1.75"/>
<circle cx="121.3" cy="306.7" r="1.75"/>
<circle cx="136.0" cy="302.1" r="1.75"/>
<circle cx="134.0" cy="302.0" r="1.75"/>
<circle cx="135.3" cy="303.7" r="1.75"/>
<circle cx="121.3" cy="311.4" r="1.75"/>
<circle cx="124.8" cy="304.8" r="1.75"/>
<circle cx="133.7" cy="298.2" r="1.75"/>
<circle cx="139.5" cy="291.9" r="1.75"/>
<circle cx="137.8" cy="298.4" r="1.75"/>
<circle cx="123.0" cy="307.0" r="1.75"/>
<circle cx="140.7" cy="299.8" r="1.75"/>
<circle cx="115.0" cy="309.1" r="1.75"/>
<circle cx="142.2" cy="294.8" r="1.75"/>
<circle cx="103.6" cy="319.1" r="1.75"/>
<circle cx="114.3" cy="310.1" r="1.75"/>
<circle cx="141.9" cy="294.5" r="1.75"/>
<circle cx="147.3" cy="298.8" r="1.75"/>
<circle cx="114.7" cy="309.8" r="1.75"/>
<circle cx="112.6" cy="312.3" r="1.75"/>
<circle cx="117.3" cy="310.6" r="1.75"/>
<circle cx="119.8" cy="309.2" r="1.75"/>
<circle cx="106.7" cy="312.9" r="1.75"/>
<circle cx="113.5" cy="308.9" r="1.75"/>
<circle cx="143.7" cy="289.9" r="1.75"/>
<circle cx="140.2" cy="300.2" r="1.75"/>
<circle cx="117.0" cy="311.4" r="1.75"/>
<circle cx="145.7" cy="291.4" r="1.75"/>
<circle cx="135.2" cy="302.9" r="1.75"/>
<circle cx="113.3" cy="313.6" r="1.75"/>
<circle cx="135.1" cy="304.5" r="1.75"/>
<circle cx="112.0" cy="309.2" r="1.75"/>
<circle cx="121.5" cy="305.0" r="1.75"/>
<circle cx="111.8" cy="312.1" r="1.75"/>
<circle cx="122.0" cy="306.6" r="1.75"/>
<circle cx="105.3" cy="317.7" r="1.75"/>
<circle cx="142.9" cy="296.7" r="1.75"/>
<circle cx="111.2" cy="312.2" r="1.75"/>
<circle cx="104.5" cy="318.7" r="1.75"/>
<circle cx="137.3" cy="295.2" r="1.75"/>
<circle cx="116.9" cy="311.1" r="1.75"/>
<circle cx="111.9" cy="314.7" r="1.75"/>
<circle cx="129.5" cy="299.6" r="1.75"/>
<circle cx="128.5" cy="303.7" r="1.75"/>
<circle cx="107.5" cy="314.6" r="1.75"/>
<circle cx="148.2" cy="294.0" r="1.75"/>
<circle cx="119.5" cy="313.5" r="1.75"/>
<circle cx="120.7" cy="306.6" r="1.75"/>
<circle cx="126.9" cy="307.5" r="1.75"/>
<circle cx="134.0" cy="297.5" r="1.75"/>
<circle cx="121.0" cy="311.1" r="1.75"/>
<circle cx="137.7" cy="303.4" r="1.75"/>
<circle cx="142.6" cy="294.8" r="1.75"/>
<circle cx="142.3" cy="294.6" r="1.75"/>
<circle cx="108.4" cy="314.9" r="1.75"/>
<circle cx="111.6" cy="315.6" r="1.75"/>
<circle cx="117.1" cy="308.0" r="1.75"/>
<circle cx="134.3" cy="304.0" r="1.75"/>
<circle cx="131.7" cy="302.8" r="1.75"/>
<circle cx="142.0" cy="298.3" r="1.75"/>
<circle cx="139.6" cy="298.3" r="1.75"/>
<circle cx="110.9" cy="311.9" r="1.75"/>
<circle cx="114.3" cy="312.9" r="1.75"/>
<circle cx="120.8" cy="306.5" r="1.75"/>
<circle cx="133.8" cy="298.6" r="1.75"/>
<circle cx="107.3" cy="318.9" r="1.75"/>
<circle cx="132.6" cy="304.1" r="1.75"/>
<circle cx="111.4" cy="314.0" r="1.75"/>
<circle cx="131.4" cy="303.3" r="1.75"/>
<circle cx="152.7" cy="289.5" r="1.75"/>
<circle cx="154.1" cy="295.9" r="1.75"/>
<circle cx="152.8" cy="288.2" r="1.75"/>
<circle cx="144.7" cy="292.4" r="1.75"/>
<circle cx="161.3" cy="286.7" r="1.75"/>
<circle cx="160.9" cy="291.0" r="1.75"/>
<circle cx="143.3" cy="295.3" r="1.75"/>
<circle cx="160.5" cy="288.4" r="1.75"/>
<circle cx="152.7" cy="288.7" r="1.75"/>
<circle cx="145.0" cy="294.7" r="1.75"/>
<circle cx="158.1" cy="285.3" r="1.75"/>
<circle cx="150.8" cy="292.8" r="1.75"/>
<circle cx="156.1" cy="284.1" r="1.75"/>
<circle cx="158.2" cy="295.3" r="1.75"/>
<circle cx="152.8" cy="293.6" r="1.75"/>
<circle cx="143.5" cy="293.8" r="1.75"/>
<circle cx="158.2" cy="292.7" r="1.75"/>
<circle cx="155.7" cy="286.6" r="1.75"/>
<circle cx="159.8" cy="291.0" r="1.75"/>
<circle cx="147.7" cy="292.7" r="1.75"/>
<circle cx="157.4" cy="291.1" r="1.75"/>
<circle cx="159.1" cy="288.7" r="1.75"/>
<circle cx="149.3" cy="291.6" r="1.75"/>
<circle cx="150.4" cy="292.0" r="1.75"/>
<circle cx="148.9" cy="293.5" r="1.75"/>
<circle cx="142.7" cy="289.5" r="1.75"/>
<circle cx="147.0" cy="293.4" r="1.75"/>
<circle cx="148.9" cy="295.3" r="1.75"/>
<circle cx="144.7" cy="291.9" r="1.75"/>
<circle cx="157.1" cy="285.6" r="1.75"/>
<circle cx="150.7" cy="287.7" r="1.75"/>
<circle cx="153.3" cy="284.5" r="1.75"/>
<circle cx="141.1" cy="270.5" r="1.75"/>
<circle cx="176.9" cy="265.6" r="1.75"/>
<circle cx="87.8" cy="297.9" r="1.75"/>
<circle cx="125.5" cy="293.3" r="1.75"/>
<circle cx="193.4" cy="297.9" r="1.75"/>
<circle cx="182.9" cy="280.1" r="1.75"/>
<circle cx="168.1" cy="284.0" r="1.75"/>
<circle cx="171.0" cy="287.8" r="1.75"/>
<circle cx="162.9" cy="301.6" r="1.75"/>
<circle cx="153.3" cy="302.3" r="1.75"/>
<circle cx="163.7" cy="291.9" r="1.75"/>
<circle cx="160.8" cy="293.3" r="1.75"/>
<circle cx="135.2" cy="310.6" r="1.75"/>
<circle cx="144.2" cy="305.5" r="1.75"/>
<circle cx="275.5" cy="213.9" r="1.75"/>
<circle cx="287.6" cy="228.1" r="1.75"/>
<circle cx="221.5" cy="260.3" r="1.75"/>
</g></g>
<path d="M72.05 348.0 v-3.2 M65.6 343.40 h3.2 M135.05 348.0 v-3.2 M65.6 299.30 h3.2 M198.05 348.0 v-3.2 M65.6 255.20 h3.2 M261.05 348.0 v-3.2 M65.6 211.10 h3.2" stroke="#111" stroke-width="1" fill="none"/>
<rect x="65.6" y="184.6" width="233.5" height="163.4" fill="none" stroke="#111" stroke-width="1.4"/>
<line x1="82.2" y1="201.6" x2="105.8" y2="201.6" stroke="#111" stroke-width="1"/>
<line x1="82.2" y1="214.6" x2="105.8" y2="214.6" stroke="#333" stroke-width="1" stroke-dasharray="1 1"/>
<text class="lg" x="112.0" y="204.8">Regression line</text>
<text class="lg" x="112.0" y="218.0">1:1 line</text>
<text class="pn" x="283.6" y="336.6" text-anchor="end">RF</text>
<text class="tk" x="60.4" y="347.2" text-anchor="end">0</text>
<text class="tk" x="60.4" y="303.1" text-anchor="end">5</text>
<text class="tk" x="60.4" y="259.0" text-anchor="end">10</text>
<text class="tk" x="60.4" y="214.9" text-anchor="end">15</text>
<text class="tk" x="72.0" y="362.6" text-anchor="middle">0</text>
<text class="tk" x="135.1" y="362.6" text-anchor="middle">5</text>
<text class="tk" x="198.1" y="362.6" text-anchor="middle">10</text>
<text class="tk" x="261.1" y="362.6" text-anchor="middle">15</text>
<clipPath id="cELM"><rect x="305.6" y="184.6" width="233.6" height="163.4"/></clipPath>
<g clip-path="url(#cELM)">
<line x1="305.6" y1="348.0" x2="539.2" y2="184.6" stroke="#333" stroke-width="0.9" stroke-dasharray="1.3 0.4"/>
<line x1="304.49" y1="335.99" x2="541.37" y2="241.98" stroke="#111" stroke-width="1.0"/>
<g fill="none" stroke="#111" stroke-width="1.0">
<circle cx="336.4" cy="321.5" r="1.75"/>
<circle cx="329.5" cy="336.6" r="1.75"/>
<circle cx="326.4" cy="330.9" r="1.75"/>
<circle cx="335.2" cy="326.5" r="1.75"/>
<circle cx="342.0" cy="317.4" r="1.75"/>
<circle cx="322.2" cy="335.2" r="1.75"/>
<circle cx="347.3" cy="321.0" r="1.75"/>
<circle cx="342.4" cy="326.6" r="1.75"/>
<circle cx="322.6" cy="330.2" r="1.75"/>
<circle cx="332.6" cy="324.8" r="1.75"/>
<circle cx="347.8" cy="311.7" r="1.75"/>
<circle cx="324.2" cy="324.6" r="1.75"/>
<circle cx="321.3" cy="329.7" r="1.75"/>
<circle cx="334.3" cy="322.9" r="1.75"/>
<circle cx="331.7" cy="325.0" r="1.75"/>
<circle cx="324.3" cy="328.5" r="1.75"/>
<circle cx="346.6" cy="308.6" r="1.75"/>
<circle cx="319.1" cy="340.7" r="1.75"/>
<circle cx="342.0" cy="321.8" r="1.75"/>
<circle cx="345.1" cy="317.2" r="1.75"/>
<circle cx="343.5" cy="312.8" r="1.75"/>
<circle cx="325.9" cy="334.8" r="1.75"/>
<circle cx="331.7" cy="323.6" r="1.75"/>
<circle cx="335.9" cy="318.4" r="1.75"/>
<circle cx="319.8" cy="333.8" r="1.75"/>
<circle cx="325.4" cy="339.8" r="1.75"/>
<circle cx="328.5" cy="329.3" r="1.75"/>
<circle cx="343.2" cy="327.8" r="1.75"/>
<circle cx="325.1" cy="325.0" r="1.75"/>
<circle cx="348.7" cy="323.0" r="1.75"/>
<circle cx="330.8" cy="315.4" r="1.75"/>
<circle cx="334.0" cy="323.7" r="1.75"/>
<circle cx="319.0" cy="336.3" r="1.75"/>
<circle cx="341.1" cy="324.3" r="1.75"/>
<circle cx="336.6" cy="330.0" r="1.75"/>
<circle cx="323.3" cy="327.4" r="1.75"/>
<circle cx="337.0" cy="313.9" r="1.75"/>
<circle cx="336.7" cy="324.6" r="1.75"/>
<circle cx="332.3" cy="319.8" r="1.75"/>
<circle cx="347.9" cy="324.0" r="1.75"/>
<circle cx="324.2" cy="327.4" r="1.75"/>
<circle cx="331.2" cy="312.1" r="1.75"/>
<circle cx="344.3" cy="328.6" r="1.75"/>
<circle cx="329.7" cy="319.3" r="1.75"/>
<circle cx="331.9" cy="318.5" r="1.75"/>
<circle cx="329.3" cy="336.7" r="1.75"/>
<circle cx="323.9" cy="336.5" r="1.75"/>
<circle cx="327.5" cy="333.4" r="1.75"/>
<circle cx="330.8" cy="320.3" r="1.75"/>
<circle cx="334.1" cy="327.1" r="1.75"/>
<circle cx="350.1" cy="317.9" r="1.75"/>
<circle cx="321.6" cy="326.4" r="1.75"/>
<circle cx="334.1" cy="323.8" r="1.75"/>
<circle cx="326.3" cy="326.9" r="1.75"/>
<circle cx="334.9" cy="326.1" r="1.75"/>
<circle cx="336.4" cy="316.5" r="1.75"/>
<circle cx="324.9" cy="333.4" r="1.75"/>
<circle cx="346.5" cy="307.8" r="1.75"/>
<circle cx="338.9" cy="324.3" r="1.75"/>
<circle cx="350.7" cy="321.8" r="1.75"/>
<circle cx="320.1" cy="327.5" r="1.75"/>
<circle cx="348.6" cy="314.6" r="1.75"/>
<circle cx="341.3" cy="333.5" r="1.75"/>
<circle cx="330.2" cy="325.0" r="1.75"/>
<circle cx="329.6" cy="334.7" r="1.75"/>
<circle cx="322.8" cy="334.7" r="1.75"/>
<circle cx="346.5" cy="313.5" r="1.75"/>
<circle cx="335.1" cy="329.3" r="1.75"/>
<circle cx="337.1" cy="320.9" r="1.75"/>
<circle cx="342.0" cy="323.1" r="1.75"/>
<circle cx="323.9" cy="318.2" r="1.75"/>
<circle cx="337.4" cy="323.5" r="1.75"/>
<circle cx="324.0" cy="336.2" r="1.75"/>
<circle cx="339.3" cy="328.9" r="1.75"/>
<circle cx="340.8" cy="327.0" r="1.75"/>
<circle cx="337.0" cy="322.4" r="1.75"/>
<circle cx="347.1" cy="318.4" r="1.75"/>
<circle cx="332.8" cy="319.3" r="1.75"/>
<circle cx="329.8" cy="325.6" r="1.75"/>
<circle cx="319.8" cy="330.6" r="1.75"/>
<circle cx="329.8" cy="324.6" r="1.75"/>
<circle cx="331.1" cy="326.7" r="1.75"/>
<circle cx="340.0" cy="319.9" r="1.75"/>
<circle cx="345.2" cy="314.2" r="1.75"/>
<circle cx="348.0" cy="312.8" r="1.75"/>
<circle cx="331.1" cy="329.3" r="1.75"/>
<circle cx="336.8" cy="334.2" r="1.75"/>
<circle cx="323.5" cy="334.3" r="1.75"/>
<circle cx="331.5" cy="324.1" r="1.75"/>
<circle cx="344.3" cy="334.1" r="1.75"/>
<circle cx="348.6" cy="320.7" r="1.75"/>
<circle cx="344.2" cy="316.9" r="1.75"/>
<circle cx="320.6" cy="334.3" r="1.75"/>
<circle cx="330.8" cy="332.9" r="1.75"/>
<circle cx="332.6" cy="314.7" r="1.75"/>
<circle cx="346.1" cy="310.0" r="1.75"/>
<circle cx="330.0" cy="328.1" r="1.75"/>
<circle cx="320.8" cy="323.4" r="1.75"/>
<circle cx="318.8" cy="324.6" r="1.75"/>
<circle cx="341.8" cy="328.0" r="1.75"/>
<circle cx="338.5" cy="308.0" r="1.75"/>
<circle cx="319.0" cy="337.1" r="1.75"/>
<circle cx="347.6" cy="319.9" r="1.75"/>
<circle cx="334.7" cy="331.0" r="1.75"/>
<circle cx="344.0" cy="319.4" r="1.75"/>
<circle cx="340.3" cy="329.9" r="1.75"/>
<circle cx="328.8" cy="327.2" r="1.75"/>
<circle cx="328.5" cy="320.9" r="1.75"/>
<circle cx="334.0" cy="323.4" r="1.75"/>
<circle cx="323.9" cy="331.0" r="1.75"/>
<circle cx="344.6" cy="309.8" r="1.75"/>
<circle cx="324.5" cy="334.4" r="1.75"/>
<circle cx="324.3" cy="323.7" r="1.75"/>
<circle cx="343.0" cy="322.3" r="1.75"/>
<circle cx="336.4" cy="322.2" r="1.75"/>
<circle cx="320.0" cy="331.2" r="1.75"/>
<circle cx="333.4" cy="324.2" r="1.75"/>
<circle cx="333.3" cy="325.3" r="1.75"/>
<circle cx="346.3" cy="323.9" r="1.75"/>
<circle cx="341.5" cy="324.7" r="1.75"/>
<circle cx="339.8" cy="319.2" r="1.75"/>
<circle cx="345.2" cy="320.1" r="1.75"/>
<circle cx="319.3" cy="338.3" r="1.75"/>
<circle cx="333.8" cy="329.1" r="1.75"/>
<circle cx="343.3" cy="324.7" r="1.75"/>
<circle cx="340.3" cy="322.1" r="1.75"/>
<circle cx="325.1" cy="327.9" r="1.75"/>
<circle cx="341.5" cy="320.6" r="1.75"/>
<circle cx="329.1" cy="331.0" r="1.75"/>
<circle cx="340.1" cy="321.7" r="1.75"/>
<circle cx="339.0" cy="330.9" r="1.75"/>
<circle cx="329.1" cy="337.5" r="1.75"/>
<circle cx="322.6" cy="330.5" r="1.75"/>
<circle cx="346.7" cy="329.3" r="1.75"/>
<circle cx="333.0" cy="331.0" r="1.75"/>
<circle cx="328.6" cy="334.5" r="1.75"/>
<circle cx="319.3" cy="328.3" r="1.75"/>
<circle cx="329.3" cy="334.2" r="1.75"/>
<circle cx="324.0" cy="328.0" r="1.75"/>
<circle cx="322.5" cy="333.1" r="1.75"/>
<circle cx="344.9" cy="327.5" r="1.75"/>
<circle cx="336.5" cy="333.3" r="1.75"/>
<circle cx="323.3" cy="327.2" r="1.75"/>
<circle cx="343.4" cy="317.9" r="1.75"/>
<circle cx="322.4" cy="325.9" r="1.75"/>
<circle cx="339.6" cy="310.7" r="1.75"/>
<circle cx="328.5" cy="325.9" r="1.75"/>
<circle cx="337.2" cy="321.6" r="1.75"/>
<circle cx="327.6" cy="328.7" r="1.75"/>
<circle cx="330.8" cy="325.8" r="1.75"/>
<circle cx="323.5" cy="331.9" r="1.75"/>
<circle cx="325.5" cy="334.2" r="1.75"/>
<circle cx="344.3" cy="307.3" r="1.75"/>
<circle cx="349.0" cy="329.8" r="1.75"/>
<circle cx="348.3" cy="316.5" r="1.75"/>
<circle cx="341.7" cy="318.4" r="1.75"/>
<circle cx="340.7" cy="320.8" r="1.75"/>
<circle cx="330.7" cy="332.2" r="1.75"/>
<circle cx="328.0" cy="328.9" r="1.75"/>
<circle cx="341.3" cy="324.4" r="1.75"/>
<circle cx="330.1" cy="333.2" r="1.75"/>
<circle cx="336.9" cy="323.9" r="1.75"/>
<circle cx="342.4" cy="323.5" r="1.75"/>
<circle cx="325.4" cy="332.3" r="1.75"/>
<circle cx="338.7" cy="318.5" r="1.75"/>
<circle cx="335.4" cy="330.8" r="1.75"/>
<circle cx="336.9" cy="320.9" r="1.75"/>
<circle cx="346.6" cy="322.9" r="1.75"/>
<circle cx="322.9" cy="327.8" r="1.75"/>
<circle cx="327.4" cy="327.7" r="1.75"/>
<circle cx="322.0" cy="329.3" r="1.75"/>
<circle cx="344.5" cy="326.2" r="1.75"/>
<circle cx="327.7" cy="332.6" r="1.75"/>
<circle cx="332.4" cy="331.0" r="1.75"/>
<circle cx="324.9" cy="328.3" r="1.75"/>
<circle cx="322.9" cy="326.0" r="1.75"/>
<circle cx="334.5" cy="318.2" r="1.75"/>
<circle cx="336.2" cy="327.1" r="1.75"/>
<circle cx="318.6" cy="331.9" r="1.75"/>
<circle cx="346.5" cy="329.5" r="1.75"/>
<circle cx="336.1" cy="337.5" r="1.75"/>
<circle cx="340.9" cy="327.2" r="1.75"/>
<circle cx="346.8" cy="323.3" r="1.75"/>
<circle cx="340.9" cy="331.5" r="1.75"/>
<circle cx="326.6" cy="339.0" r="1.75"/>
<circle cx="325.7" cy="325.9" r="1.75"/>
<circle cx="324.3" cy="334.4" r="1.75"/>
<circle cx="338.1" cy="333.5" r="1.75"/>
<circle cx="330.9" cy="312.7" r="1.75"/>
<circle cx="326.1" cy="327.8" r="1.75"/>
<circle cx="339.4" cy="324.5" r="1.75"/>
<circle cx="327.1" cy="324.4" r="1.75"/>
<circle cx="328.7" cy="332.1" r="1.75"/>
<circle cx="332.2" cy="316.4" r="1.75"/>
<circle cx="339.6" cy="332.0" r="1.75"/>
<circle cx="322.4" cy="338.2" r="1.75"/>
<circle cx="321.7" cy="331.7" r="1.75"/>
<circle cx="320.2" cy="336.0" r="1.75"/>
<circle cx="330.7" cy="318.3" r="1.75"/>
<circle cx="322.1" cy="340.0" r="1.75"/>
<circle cx="325.2" cy="333.6" r="1.75"/>
<circle cx="333.8" cy="323.8" r="1.75"/>
<circle cx="349.1" cy="314.4" r="1.75"/>
<circle cx="340.4" cy="315.8" r="1.75"/>
<circle cx="347.1" cy="316.7" r="1.75"/>
<circle cx="335.9" cy="310.8" r="1.75"/>
<circle cx="341.8" cy="324.5" r="1.75"/>
<circle cx="340.3" cy="321.1" r="1.75"/>
<circle cx="350.1" cy="312.0" r="1.75"/>
<circle cx="326.0" cy="330.8" r="1.75"/>
<circle cx="333.8" cy="327.1" r="1.75"/>
<circle cx="338.6" cy="325.9" r="1.75"/>
<circle cx="323.3" cy="334.0" r="1.75"/>
<circle cx="332.4" cy="332.8" r="1.75"/>
<circle cx="333.1" cy="329.0" r="1.75"/>
<circle cx="322.4" cy="339.6" r="1.75"/>
<circle cx="327.9" cy="325.9" r="1.75"/>
<circle cx="341.2" cy="331.8" r="1.75"/>
<circle cx="346.3" cy="306.2" r="1.75"/>
<circle cx="332.1" cy="315.9" r="1.75"/>
<circle cx="336.0" cy="317.5" r="1.75"/>
<circle cx="324.3" cy="331.1" r="1.75"/>
<circle cx="328.2" cy="331.5" r="1.75"/>
<circle cx="325.7" cy="322.1" r="1.75"/>
<circle cx="334.2" cy="324.1" r="1.75"/>
<circle cx="324.6" cy="326.5" r="1.75"/>
<circle cx="324.2" cy="334.1" r="1.75"/>
<circle cx="342.6" cy="314.5" r="1.75"/>
<circle cx="338.2" cy="328.2" r="1.75"/>
<circle cx="338.1" cy="322.7" r="1.75"/>
<circle cx="327.8" cy="336.8" r="1.75"/>
<circle cx="341.8" cy="325.7" r="1.75"/>
<circle cx="340.9" cy="318.9" r="1.75"/>
<circle cx="336.1" cy="327.1" r="1.75"/>
<circle cx="343.0" cy="323.8" r="1.75"/>
<circle cx="329.3" cy="322.9" r="1.75"/>
<circle cx="325.8" cy="329.6" r="1.75"/>
<circle cx="333.9" cy="317.8" r="1.75"/>
<circle cx="330.0" cy="338.7" r="1.75"/>
<circle cx="332.3" cy="322.7" r="1.75"/>
<circle cx="328.7" cy="324.9" r="1.75"/>
<circle cx="324.4" cy="338.8" r="1.75"/>
<circle cx="347.5" cy="327.3" r="1.75"/>
<circle cx="337.1" cy="318.5" r="1.75"/>
<circle cx="343.0" cy="327.8" r="1.75"/>
<circle cx="329.0" cy="331.5" r="1.75"/>
<circle cx="328.4" cy="324.5" r="1.75"/>
<circle cx="334.9" cy="326.9" r="1.75"/>
<circle cx="323.3" cy="327.6" r="1.75"/>
<circle cx="336.9" cy="329.3" r="1.75"/>
<circle cx="326.7" cy="327.1" r="1.75"/>
<circle cx="349.6" cy="310.9" r="1.75"/>
<circle cx="345.7" cy="317.7" r="1.75"/>
<circle cx="318.8" cy="341.2" r="1.75"/>
<circle cx="326.4" cy="325.1" r="1.75"/>
<circle cx="322.5" cy="330.4" r="1.75"/>
<circle cx="346.1" cy="325.4" r="1.75"/>
<circle cx="318.8" cy="324.7" r="1.75"/>
<circle cx="349.2" cy="329.4" r="1.75"/>
<circle cx="347.4" cy="306.9" r="1.75"/>
<circle cx="330.4" cy="330.8" r="1.75"/>
<circle cx="338.9" cy="313.3" r="1.75"/>
<circle cx="341.4" cy="322.1" r="1.75"/>
<circle cx="348.0" cy="327.3" r="1.75"/>
<circle cx="324.4" cy="329.3" r="1.75"/>
<circle cx="327.2" cy="326.6" r="1.75"/>
<circle cx="330.4" cy="323.8" r="1.75"/>
<circle cx="329.7" cy="321.1" r="1.75"/>
<circle cx="337.9" cy="329.0" r="1.75"/>
<circle cx="330.7" cy="324.0" r="1.75"/>
<circle cx="333.0" cy="321.4" r="1.75"/>
<circle cx="334.5" cy="326.7" r="1.75"/>
<circle cx="327.6" cy="333.9" r="1.75"/>
<circle cx="344.7" cy="326.4" r="1.75"/>
<circle cx="340.9" cy="317.4" r="1.75"/>
<circle cx="345.6" cy="314.7" r="1.75"/>
<circle cx="346.5" cy="324.7" r="1.75"/>
<circle cx="324.8" cy="337.5" r="1.75"/>
<circle cx="327.3" cy="321.2" r="1.75"/>
<circle cx="346.4" cy="329.4" r="1.75"/>
<circle cx="325.3" cy="328.5" r="1.75"/>
<circle cx="327.3" cy="333.3" r="1.75"/>
<circle cx="343.0" cy="332.1" r="1.75"/>
<circle cx="318.4" cy="332.0" r="1.75"/>
<circle cx="326.7" cy="329.9" r="1.75"/>
<circle cx="324.9" cy="321.3" r="1.75"/>
<circle cx="334.0" cy="311.6" r="1.75"/>
<circle cx="342.7" cy="322.4" r="1.75"/>
<circle cx="338.5" cy="316.9" r="1.75"/>
<circle cx="336.0" cy="318.0" r="1.75"/>
<circle cx="322.2" cy="334.0" r="1.75"/>
<circle cx="341.1" cy="327.4" r="1.75"/>
<circle cx="323.1" cy="321.3" r="1.75"/>
<circle cx="332.7" cy="328.2" r="1.75"/>
<circle cx="349.6" cy="318.1" r="1.75"/>
<circle cx="346.3" cy="321.4" r="1.75"/>
<circle cx="354.6" cy="316.5" r="1.75"/>
<circle cx="359.1" cy="317.5" r="1.75"/>
<circle cx="386.9" cy="294.6" r="1.75"/>
<circle cx="370.5" cy="299.1" r="1.75"/>
<circle cx="371.2" cy="310.3" r="1.75"/>
<circle cx="372.6" cy="316.9" r="1.75"/>
<circle cx="367.3" cy="309.2" r="1.75"/>
<circle cx="368.2" cy="319.5" r="1.75"/>
<circle cx="346.1" cy="323.7" r="1.75"/>
<circle cx="353.3" cy="308.1" r="1.75"/>
<circle cx="356.1" cy="299.4" r="1.75"/>
<circle cx="362.2" cy="309.4" r="1.75"/>
<circle cx="368.8" cy="316.3" r="1.75"/>
<circle cx="376.5" cy="299.6" r="1.75"/>
<circle cx="377.1" cy="320.6" r="1.75"/>
<circle cx="368.2" cy="314.0" r="1.75"/>
<circle cx="351.8" cy="306.9" r="1.75"/>
<circle cx="368.2" cy="303.9" r="1.75"/>
<circle cx="353.2" cy="325.4" r="1.75"/>
<circle cx="359.8" cy="324.4" r="1.75"/>
<circle cx="366.2" cy="304.1" r="1.75"/>
<circle cx="376.5" cy="305.5" r="1.75"/>
<circle cx="357.8" cy="318.0" r="1.75"/>
<circle cx="376.5" cy="302.2" r="1.75"/>
<circle cx="361.0" cy="316.5" r="1.75"/>
<circle cx="377.5" cy="318.7" r="1.75"/>
<circle cx="377.2" cy="299.0" r="1.75"/>
<circle cx="363.2" cy="315.9" r="1.75"/>
<circle cx="379.8" cy="311.0" r="1.75"/>
<circle cx="343.8" cy="329.2" r="1.75"/>
<circle cx="360.1" cy="311.3" r="1.75"/>
<circle cx="347.1" cy="324.3" r="1.75"/>
<circle cx="384.5" cy="296.7" r="1.75"/>
<circle cx="349.7" cy="319.6" r="1.75"/>
<circle cx="369.5" cy="300.9" r="1.75"/>
<circle cx="374.2" cy="309.0" r="1.75"/>
<circle cx="357.8" cy="318.4" r="1.75"/>
<circle cx="387.0" cy="315.0" r="1.75"/>
<circle cx="377.5" cy="312.7" r="1.75"/>
<circle cx="387.5" cy="294.5" r="1.75"/>
<circle cx="347.0" cy="303.3" r="1.75"/>
<circle cx="361.6" cy="320.8" r="1.75"/>
<circle cx="344.0" cy="327.2" r="1.75"/>
<circle cx="387.9" cy="297.2" r="1.75"/>
<circle cx="362.3" cy="308.6" r="1.75"/>
<circle cx="354.5" cy="320.1" r="1.75"/>
<circle cx="346.0" cy="319.2" r="1.75"/>
<circle cx="363.3" cy="322.5" r="1.75"/>
<circle cx="374.2" cy="308.4" r="1.75"/>
<circle cx="385.9" cy="294.0" r="1.75"/>
<circle cx="358.3" cy="302.8" r="1.75"/>
<circle cx="354.2" cy="316.9" r="1.75"/>
<circle cx="348.1" cy="320.3" r="1.75"/>
<circle cx="382.3" cy="299.1" r="1.75"/>
<circle cx="365.6" cy="302.7" r="1.75"/>
<circle cx="350.5" cy="314.3" r="1.75"/>
<circle cx="351.8" cy="321.8" r="1.75"/>
<circle cx="379.2" cy="301.3" r="1.75"/>
<circle cx="363.1" cy="304.9" r="1.75"/>
<circle cx="368.1" cy="314.2" r="1.75"/>
<circle cx="363.2" cy="320.7" r="1.75"/>
<circle cx="348.1" cy="315.4" r="1.75"/>
<circle cx="379.7" cy="301.0" r="1.75"/>
<circle cx="349.4" cy="311.8" r="1.75"/>
<circle cx="378.6" cy="303.5" r="1.75"/>
<circle cx="348.4" cy="322.7" r="1.75"/>
<circle cx="343.7" cy="323.5" r="1.75"/>
<circle cx="383.2" cy="309.6" r="1.75"/>
<circle cx="377.9" cy="311.4" r="1.75"/>
<circle cx="347.1" cy="322.7" r="1.75"/>
<circle cx="378.0" cy="308.0" r="1.75"/>
<circle cx="360.2" cy="305.3" r="1.75"/>
<circle cx="384.6" cy="310.5" r="1.75"/>
<circle cx="345.3" cy="320.3" r="1.75"/>
<circle cx="365.2" cy="314.6" r="1.75"/>
<circle cx="366.3" cy="299.7" r="1.75"/>
<circle cx="364.7" cy="309.0" r="1.75"/>
<circle cx="371.3" cy="310.3" r="1.75"/>
<circle cx="387.3" cy="293.9" r="1.75"/>
<circle cx="354.4" cy="315.2" r="1.75"/>
<circle cx="380.5" cy="306.8" r="1.75"/>
<circle cx="370.9" cy="297.0" r="1.75"/>
<circle cx="351.0" cy="312.6" r="1.75"/>
<circle cx="345.0" cy="309.1" r="1.75"/>
<circle cx="344.3" cy="313.1" r="1.75"/>
<circle cx="354.1" cy="310.6" r="1.75"/>
<circle cx="357.0" cy="313.5" r="1.75"/>
<circle cx="355.1" cy="322.5" r="1.75"/>
<circle cx="358.7" cy="308.8" r="1.75"/>
<circle cx="366.6" cy="309.3" r="1.75"/>
<circle cx="350.9" cy="312.9" r="1.75"/>
<circle cx="344.5" cy="320.3" r="1.75"/>
<circle cx="356.7" cy="319.1" r="1.75"/>
<circle cx="375.7" cy="312.8" r="1.75"/>
<circle cx="376.7" cy="299.9" r="1.75"/>
<circle cx="359.3" cy="304.6" r="1.75"/>
<circle cx="350.4" cy="319.4" r="1.75"/>
<circle cx="349.3" cy="315.1" r="1.75"/>
<circle cx="386.9" cy="289.8" r="1.75"/>
<circle cx="356.0" cy="320.4" r="1.75"/>
<circle cx="381.6" cy="305.2" r="1.75"/>
<circle cx="370.0" cy="316.1" r="1.75"/>
<circle cx="363.9" cy="303.0" r="1.75"/>
<circle cx="355.8" cy="313.2" r="1.75"/>
<circle cx="365.6" cy="313.5" r="1.75"/>
<circle cx="343.9" cy="331.0" r="1.75"/>
<circle cx="364.0" cy="312.3" r="1.75"/>
<circle cx="354.5" cy="308.9" r="1.75"/>
<circle cx="370.3" cy="310.1" r="1.75"/>
<circle cx="364.9" cy="313.5" r="1.75"/>
<circle cx="347.4" cy="314.8" r="1.75"/>
<circle cx="382.5" cy="311.4" r="1.75"/>
<circle cx="363.4" cy="311.0" r="1.75"/>
<circle cx="352.3" cy="312.6" r="1.75"/>
<circle cx="350.7" cy="322.4" r="1.75"/>
<circle cx="348.1" cy="323.9" r="1.75"/>
<circle cx="353.2" cy="314.5" r="1.75"/>
<circle cx="363.8" cy="311.8" r="1.75"/>
<circle cx="371.9" cy="308.9" r="1.75"/>
<circle cx="356.6" cy="313.1" r="1.75"/>
<circle cx="388.0" cy="297.9" r="1.75"/>
<circle cx="350.5" cy="323.4" r="1.75"/>
<circle cx="362.8" cy="316.1" r="1.75"/>
<circle cx="359.8" cy="310.0" r="1.75"/>
<circle cx="361.3" cy="304.7" r="1.75"/>
<circle cx="376.0" cy="295.6" r="1.75"/>
<circle cx="374.0" cy="312.3" r="1.75"/>
<circle cx="375.3" cy="297.8" r="1.75"/>
<circle cx="361.3" cy="307.1" r="1.75"/>
<circle cx="364.8" cy="310.8" r="1.75"/>
<circle cx="373.7" cy="302.9" r="1.75"/>
<circle cx="379.5" cy="297.6" r="1.75"/>
<circle cx="377.8" cy="291.5" r="1.75"/>
<circle cx="363.0" cy="318.7" r="1.75"/>
<circle cx="380.7" cy="298.6" r="1.75"/>
<circle cx="355.0" cy="316.2" r="1.75"/>
<circle cx="382.2" cy="303.8" r="1.75"/>
<circle cx="343.6" cy="313.4" r="1.75"/>
<circle cx="354.3" cy="310.2" r="1.75"/>
<circle cx="381.9" cy="310.0" r="1.75"/>
<circle cx="387.3" cy="302.0" r="1.75"/>
<circle cx="354.7" cy="313.9" r="1.75"/>
<circle cx="352.6" cy="325.6" r="1.75"/>
<circle cx="357.3" cy="308.4" r="1.75"/>
<circle cx="359.8" cy="313.4" r="1.75"/>
<circle cx="346.7" cy="318.1" r="1.75"/>
<circle cx="353.5" cy="313.7" r="1.75"/>
<circle cx="383.7" cy="288.2" r="1.75"/>
<circle cx="380.2" cy="303.0" r="1.75"/>
<circle cx="357.0" cy="316.7" r="1.75"/>
<circle cx="385.7" cy="287.7" r="1.75"/>
<circle cx="375.2" cy="309.2" r="1.75"/>
<circle cx="353.3" cy="319.5" r="1.75"/>
<circle cx="375.1" cy="315.6" r="1.75"/>
<circle cx="352.0" cy="309.6" r="1.75"/>
<circle cx="361.5" cy="310.3" r="1.75"/>
<circle cx="351.8" cy="313.7" r="1.75"/>
<circle cx="362.0" cy="310.8" r="1.75"/>
<circle cx="345.3" cy="320.7" r="1.75"/>
<circle cx="382.9" cy="307.7" r="1.75"/>
<circle cx="351.2" cy="322.1" r="1.75"/>
<circle cx="344.5" cy="317.5" r="1.75"/>
<circle cx="377.3" cy="303.7" r="1.75"/>
<circle cx="356.9" cy="303.5" r="1.75"/>
<circle cx="351.9" cy="321.6" r="1.75"/>
<circle cx="369.5" cy="311.7" r="1.75"/>
<circle cx="368.5" cy="315.9" r="1.75"/>
<circle cx="347.5" cy="309.9" r="1.75"/>
<circle cx="388.2" cy="308.7" r="1.75"/>
<circle cx="359.5" cy="307.9" r="1.75"/>
<circle cx="360.7" cy="302.8" r="1.75"/>
<circle cx="366.9" cy="310.5" r="1.75"/>
<circle cx="374.0" cy="301.0" r="1.75"/>
<circle cx="361.0" cy="326.8" r="1.75"/>
<circle cx="377.7" cy="307.2" r="1.75"/>
<circle cx="382.6" cy="314.3" r="1.75"/>
<circle cx="382.3" cy="301.0" r="1.75"/>
<circle cx="348.4" cy="318.3" r="1.75"/>
<circle cx="351.6" cy="321.8" r="1.75"/>
<circle cx="357.1" cy="307.9" r="1.75"/>
<circle cx="374.3" cy="303.5" r="1.75"/>
<circle cx="371.7" cy="311.0" r="1.75"/>
<circle cx="382.0" cy="306.1" r="1.75"/>
<circle cx="379.6" cy="314.2" r="1.75"/>
<circle cx="350.9" cy="318.4" r="1.75"/>
<circle cx="354.3" cy="301.6" r="1.75"/>
<circle cx="360.8" cy="317.2" r="1.75"/>
<circle cx="373.8" cy="303.3" r="1.75"/>
<circle cx="347.3" cy="322.3" r="1.75"/>
<circle cx="372.6" cy="301.1" r="1.75"/>
<circle cx="351.4" cy="314.1" r="1.75"/>
<circle cx="371.4" cy="309.0" r="1.75"/>
<circle cx="392.7" cy="310.9" r="1.75"/>
<circle cx="394.1" cy="300.6" r="1.75"/>
<circle cx="392.8" cy="288.1" r="1.75"/>
<circle cx="384.7" cy="302.9" r="1.75"/>
<circle cx="401.3" cy="288.2" r="1.75"/>
<circle cx="400.9" cy="297.2" r="1.75"/>
<circle cx="383.3" cy="315.5" r="1.75"/>
<circle cx="400.5" cy="290.2" r="1.75"/>
<circle cx="392.7" cy="294.8" r="1.75"/>
<circle cx="385.0" cy="305.2" r="1.75"/>
<circle cx="398.1" cy="297.6" r="1.75"/>
<circle cx="390.8" cy="296.0" r="1.75"/>
<circle cx="396.1" cy="300.2" r="1.75"/>
<circle cx="398.2" cy="291.9" r="1.75"/>
<circle cx="392.8" cy="298.8" r="1.75"/>
<circle cx="383.5" cy="317.9" r="1.75"/>
<circle cx="398.2" cy="295.8" r="1.75"/>
<circle cx="395.7" cy="300.4" r="1.75"/>
<circle cx="399.8" cy="300.4" r="1.75"/>
<circle cx="387.7" cy="296.6" r="1.75"/>
<circle cx="397.4" cy="298.8" r="1.75"/>
<circle cx="399.1" cy="290.0" r="1.75"/>
<circle cx="389.3" cy="290.6" r="1.75"/>
<circle cx="390.4" cy="297.3" r="1.75"/>
<circle cx="388.9" cy="310.7" r="1.75"/>
<circle cx="382.7" cy="307.4" r="1.75"/>
<circle cx="387.0" cy="293.1" r="1.75"/>
<circle cx="388.9" cy="301.0" r="1.75"/>
<circle cx="384.7" cy="307.1" r="1.75"/>
<circle cx="397.1" cy="295.9" r="1.75"/>
<circle cx="390.7" cy="294.4" r="1.75"/>
<circle cx="393.3" cy="295.0" r="1.75"/>
<circle cx="321.3" cy="327.5" r="1.75"/>
<circle cx="338.1" cy="328.3" r="1.75"/>
<circle cx="319.5" cy="333.6" r="1.75"/>
<circle cx="340.5" cy="323.6" r="1.75"/>
<circle cx="319.4" cy="332.2" r="1.75"/>
<circle cx="336.6" cy="336.6" r="1.75"/>
<circle cx="320.5" cy="332.9" r="1.75"/>
<circle cx="326.3" cy="336.6" r="1.75"/>
<circle cx="329.9" cy="318.9" r="1.75"/>
<circle cx="334.7" cy="315.4" r="1.75"/>
<circle cx="335.1" cy="314.5" r="1.75"/>
<circle cx="335.8" cy="319.4" r="1.75"/>
<circle cx="320.9" cy="334.1" r="1.75"/>
<circle cx="335.8" cy="318.4" r="1.75"/>
<circle cx="332.5" cy="327.1" r="1.75"/>
<circle cx="320.8" cy="328.0" r="1.75"/>
<circle cx="329.0" cy="332.8" r="1.75"/>
<circle cx="320.3" cy="335.0" r="1.75"/>
<circle cx="336.0" cy="321.4" r="1.75"/>
<circle cx="325.9" cy="318.7" r="1.75"/>
<circle cx="335.2" cy="324.7" r="1.75"/>
<circle cx="333.4" cy="311.9" r="1.75"/>
<circle cx="329.8" cy="312.7" r="1.75"/>
<circle cx="334.4" cy="332.6" r="1.75"/>
<circle cx="323.3" cy="330.3" r="1.75"/>
<circle cx="339.1" cy="328.6" r="1.75"/>
<circle cx="328.1" cy="328.7" r="1.75"/>
<circle cx="318.7" cy="335.4" r="1.75"/>
<circle cx="341.6" cy="321.9" r="1.75"/>
<circle cx="342.3" cy="315.1" r="1.75"/>
<circle cx="335.8" cy="318.6" r="1.75"/>
<circle cx="340.6" cy="320.4" r="1.75"/>
<circle cx="331.8" cy="326.1" r="1.75"/>
<circle cx="345.1" cy="319.1" r="1.75"/>
<circle cx="333.0" cy="324.8" r="1.75"/>
<circle cx="332.9" cy="322.2" r="1.75"/>
<circle cx="329.9" cy="327.0" r="1.75"/>
<circle cx="322.6" cy="327.7" r="1.75"/>
<circle cx="330.6" cy="334.5" r="1.75"/>
<circle cx="322.4" cy="326.1" r="1.75"/>
<circle cx="327.4" cy="318.1" r="1.75"/>
<circle cx="342.8" cy="319.8" r="1.75"/>
<circle cx="331.9" cy="334.5" r="1.75"/>
<circle cx="335.7" cy="316.1" r="1.75"/>
<circle cx="327.8" cy="330.0" r="1.75"/>
<circle cx="340.7" cy="335.6" r="1.75"/>
<circle cx="325.6" cy="330.4" r="1.75"/>
<circle cx="337.3" cy="319.9" r="1.75"/>
<circle cx="329.0" cy="325.2" r="1.75"/>
<circle cx="343.7" cy="312.7" r="1.75"/>
<circle cx="323.1" cy="326.7" r="1.75"/>
<circle cx="341.0" cy="321.0" r="1.75"/>
<circle cx="334.0" cy="337.0" r="1.75"/>
<circle cx="345.2" cy="326.8" r="1.75"/>
<circle cx="329.2" cy="326.3" r="1.75"/>
<circle cx="342.9" cy="316.6" r="1.75"/>
<circle cx="339.0" cy="329.0" r="1.75"/>
<circle cx="325.7" cy="332.6" r="1.75"/>
<circle cx="319.6" cy="329.3" r="1.75"/>
<circle cx="336.7" cy="335.5" r="1.75"/>
<circle cx="322.7" cy="339.5" r="1.75"/>
<circle cx="345.2" cy="321.2" r="1.75"/>
<circle cx="323.8" cy="328.5" r="1.75"/>
<circle cx="329.7" cy="330.0" r="1.75"/>
<circle cx="340.4" cy="335.7" r="1.75"/>
<circle cx="327.1" cy="328.2" r="1.75"/>
<circle cx="336.6" cy="331.9" r="1.75"/>
<circle cx="335.8" cy="320.3" r="1.75"/>
<circle cx="335.0" cy="325.2" r="1.75"/>
<circle cx="322.8" cy="328.9" r="1.75"/>
<circle cx="338.7" cy="318.9" r="1.75"/>
<circle cx="336.3" cy="327.2" r="1.75"/>
<circle cx="318.8" cy="327.7" r="1.75"/>
<circle cx="335.9" cy="316.7" r="1.75"/>
<circle cx="332.9" cy="323.2" r="1.75"/>
<circle cx="319.2" cy="324.7" r="1.75"/>
<circle cx="331.0" cy="330.2" r="1.75"/>
<circle cx="341.0" cy="316.1" r="1.75"/>
<circle cx="328.0" cy="326.4" r="1.75"/>
<circle cx="343.9" cy="326.6" r="1.75"/>
<circle cx="334.9" cy="325.1" r="1.75"/>
<circle cx="323.4" cy="333.2" r="1.75"/>
<circle cx="343.2" cy="324.2" r="1.75"/>
<circle cx="328.9" cy="327.0" r="1.75"/>
<circle cx="335.6" cy="317.9" r="1.75"/>
<circle cx="339.4" cy="324.5" r="1.75"/>
<circle cx="343.0" cy="320.0" r="1.75"/>
<circle cx="324.1" cy="336.6" r="1.75"/>
<circle cx="328.9" cy="326.9" r="1.75"/>
<circle cx="332.5" cy="318.9" r="1.75"/>
<circle cx="319.6" cy="327.4" r="1.75"/>
<circle cx="325.9" cy="326.2" r="1.75"/>
<circle cx="343.7" cy="323.8" r="1.75"/>
<circle cx="329.4" cy="333.0" r="1.75"/>
<circle cx="346.0" cy="320.0" r="1.75"/>
<circle cx="331.4" cy="334.3" r="1.75"/>
<circle cx="342.3" cy="328.8" r="1.75"/>
<circle cx="327.6" cy="322.6" r="1.75"/>
<circle cx="337.0" cy="329.3" r="1.75"/>
<circle cx="345.9" cy="308.0" r="1.75"/>
<circle cx="334.2" cy="333.6" r="1.75"/>
<circle cx="343.3" cy="318.0" r="1.75"/>
<circle cx="334.6" cy="331.9" r="1.75"/>
<circle cx="345.3" cy="318.6" r="1.75"/>
<circle cx="337.8" cy="329.6" r="1.75"/>
<circle cx="340.2" cy="321.9" r="1.75"/>
<circle cx="321.1" cy="332.1" r="1.75"/>
<circle cx="329.9" cy="329.7" r="1.75"/>
<circle cx="336.6" cy="320.7" r="1.75"/>
<circle cx="322.5" cy="322.0" r="1.75"/>
<circle cx="326.5" cy="332.1" r="1.75"/>
<circle cx="327.3" cy="323.1" r="1.75"/>
<circle cx="336.6" cy="323.3" r="1.75"/>
<circle cx="341.6" cy="321.7" r="1.75"/>
<circle cx="330.3" cy="313.9" r="1.75"/>
<circle cx="339.6" cy="335.8" r="1.75"/>
<circle cx="338.3" cy="327.2" r="1.75"/>
<circle cx="339.7" cy="333.5" r="1.75"/>
<circle cx="329.4" cy="329.1" r="1.75"/>
<circle cx="324.1" cy="331.1" r="1.75"/>
<circle cx="342.8" cy="305.7" r="1.75"/>
<circle cx="326.1" cy="326.8" r="1.75"/>
<circle cx="329.7" cy="316.5" r="1.75"/>
<circle cx="344.3" cy="312.0" r="1.75"/>
<circle cx="325.0" cy="331.9" r="1.75"/>
<circle cx="344.8" cy="316.9" r="1.75"/>
<circle cx="344.7" cy="309.4" r="1.75"/>
<circle cx="339.2" cy="321.5" r="1.75"/>
<circle cx="333.6" cy="324.0" r="1.75"/>
<circle cx="327.6" cy="325.2" r="1.75"/>
<circle cx="329.5" cy="336.1" r="1.75"/>
<circle cx="332.8" cy="330.5" r="1.75"/>
<circle cx="336.8" cy="321.7" r="1.75"/>
<circle cx="330.5" cy="323.5" r="1.75"/>
<circle cx="333.7" cy="330.8" r="1.75"/>
<circle cx="329.6" cy="329.1" r="1.75"/>
<circle cx="330.9" cy="327.3" r="1.75"/>
<circle cx="336.6" cy="324.8" r="1.75"/>
<circle cx="319.5" cy="328.1" r="1.75"/>
<circle cx="336.6" cy="323.2" r="1.75"/>
<circle cx="366.1" cy="273.8" r="1.75"/>
<circle cx="377.2" cy="282.6" r="1.75"/>
<circle cx="393.3" cy="279.5" r="1.75"/>
<circle cx="394.6" cy="284.2" r="1.75"/>
<circle cx="364.3" cy="290.7" r="1.75"/>
<circle cx="373.1" cy="289.3" r="1.75"/>
<circle cx="328.0" cy="296.9" r="1.75"/>
<circle cx="322.8" cy="307.5" r="1.75"/>
<circle cx="317.1" cy="315.3" r="1.75"/>
<circle cx="408.4" cy="289.4" r="1.75"/>
<circle cx="399.9" cy="289.8" r="1.75"/>
<circle cx="396.7" cy="289.8" r="1.75"/>
<circle cx="417.5" cy="295.9" r="1.75"/>
<circle cx="423.4" cy="295.9" r="1.75"/>
<circle cx="411.5" cy="299.9" r="1.75"/>
<circle cx="403.7" cy="299.4" r="1.75"/>
<circle cx="399.9" cy="299.4" r="1.75"/>
<circle cx="396.7" cy="299.4" r="1.75"/>
<circle cx="402.5" cy="308.7" r="1.75"/>
<circle cx="399.9" cy="312.2" r="1.75"/>
<circle cx="396.2" cy="313.1" r="1.75"/>
<circle cx="393.7" cy="314.8" r="1.75"/>
<circle cx="393.3" cy="318.6" r="1.75"/>
<circle cx="384.9" cy="319.2" r="1.75"/>
<circle cx="385.1" cy="319.1" r="1.75"/>
<circle cx="433.6" cy="324.0" r="1.75"/>
<circle cx="403.7" cy="330.2" r="1.75"/>
<circle cx="375.6" cy="325.4" r="1.75"/>
<circle cx="362.0" cy="325.4" r="1.75"/>
<circle cx="354.3" cy="332.6" r="1.75"/>
<circle cx="350.9" cy="332.6" r="1.75"/>
<circle cx="341.3" cy="337.8" r="1.75"/>
<circle cx="332.9" cy="341.2" r="1.75"/>
<circle cx="319.0" cy="344.3" r="1.75"/>
<circle cx="318.8" cy="345.6" r="1.75"/>
<circle cx="319.4" cy="341.2" r="1.75"/>
<circle cx="319.6" cy="343.0" r="1.75"/>
<circle cx="319.1" cy="344.9" r="1.75"/>
<circle cx="319.0" cy="339.5" r="1.75"/>
<circle cx="319.6" cy="339.9" r="1.75"/>
<circle cx="318.6" cy="342.1" r="1.75"/>
<circle cx="462.1" cy="242.7" r="1.75"/>
<circle cx="528.0" cy="265.6" r="1.75"/>
<circle cx="516.0" cy="286.7" r="1.75"/>
</g></g>
<path d="M312.05 348.0 v-3.2 M305.6 343.40 h3.2 M375.05 348.0 v-3.2 M305.6 299.30 h3.2 M438.05 348.0 v-3.2 M305.6 255.20 h3.2 M501.05 348.0 v-3.2 M305.6 211.10 h3.2" stroke="#111" stroke-width="1" fill="none"/>
<rect x="305.6" y="184.6" width="233.6" height="163.4" fill="none" stroke="#111" stroke-width="1.4"/>
<line x1="322.2" y1="201.6" x2="345.8" y2="201.6" stroke="#111" stroke-width="1"/>
<line x1="322.2" y1="214.6" x2="345.8" y2="214.6" stroke="#333" stroke-width="1" stroke-dasharray="1 1"/>
<text class="lg" x="352.0" y="204.8">Regression line</text>
<text class="lg" x="352.0" y="218.0">1:1 line</text>
<text class="pn" x="525.6" y="338.6" text-anchor="end">ELM</text>
<text class="tk" x="312.1" y="362.6" text-anchor="middle">0</text>
<text class="tk" x="375.1" y="362.6" text-anchor="middle">5</text>
<text class="tk" x="438.1" y="362.6" text-anchor="middle">10</text>
<text class="tk" x="501.1" y="362.6" text-anchor="middle">15</text>
<text class="ax" x="330.4" y="393.4" text-anchor="middle">Measured SOM (%)</text>
<text class="ax" transform="translate(22.9,177.6) rotate(-90)" text-anchor="middle">Predicted SOM (%)</text>
<text class="cap" x="306.3" y="452.5" text-anchor="middle">(<tspan font-weight="bold">a</tspan>)</text>
</svg></body></html>
